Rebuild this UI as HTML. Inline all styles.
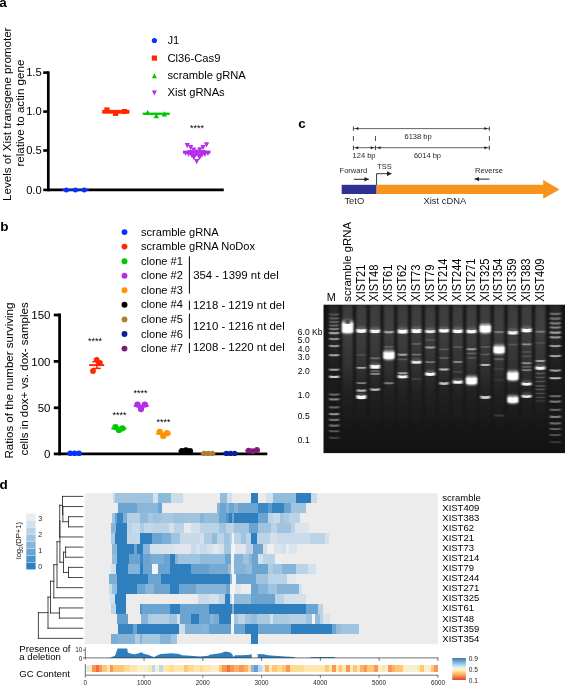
<!DOCTYPE html>
<html lang="en">
<head>
<meta charset="utf-8">
<title>Figure</title>
<style>
html,body{margin:0;padding:0;background:#fff;}
body{width:565px;height:685px;overflow:hidden;}
svg{display:block;font-family:"Liberation Sans", sans-serif;}
</style>
</head>
<body>
<svg width="565" height="685" viewBox="0 0 565 685">
<g id="panel-a">
<text x="-0.70" y="7.00" font-size="13.5" font-weight="bold">a</text>
<text x="10.80" y="114.20" font-size="11.6" text-anchor="middle" transform="rotate(-90 10.80 114.20)">Levels of Xist transgene promoter</text>
<text x="24.50" y="113.10" font-size="11.6" text-anchor="middle" transform="rotate(-90 24.50 113.10)">relative to actin gene</text>
<line x1="48.30" y1="71.30" x2="48.30" y2="191.30" stroke="#000" stroke-width="2.7"/>
<line x1="48.30" y1="189.95" x2="223.80" y2="189.95" stroke="#000" stroke-width="2.7"/>
<line x1="43.20" y1="72.60" x2="48.30" y2="72.60" stroke="#000" stroke-width="2.6"/>
<text x="41.70" y="76.20" font-size="11.2" text-anchor="end">1.5</text>
<line x1="43.20" y1="111.60" x2="48.30" y2="111.60" stroke="#000" stroke-width="2.6"/>
<text x="41.70" y="115.20" font-size="11.2" text-anchor="end">1.0</text>
<line x1="43.20" y1="150.50" x2="48.30" y2="150.50" stroke="#000" stroke-width="2.6"/>
<text x="41.70" y="154.10" font-size="11.2" text-anchor="end">0.5</text>
<line x1="43.20" y1="189.90" x2="48.30" y2="189.90" stroke="#000" stroke-width="2.6"/>
<text x="41.70" y="193.50" font-size="11.2" text-anchor="end">0.0</text>
<text x="167.50" y="44.20" font-size="11.2">J1</text>
<text x="167.50" y="61.60" font-size="11.2">Cl36-Cas9</text>
<text x="167.50" y="78.90" font-size="11.2">scramble gRNA</text>
<text x="167.50" y="96.40" font-size="11.2">Xist gRNAs</text>
<circle cx="154.40" cy="40.50" r="2.60" fill="#0433ff"/>
<rect x="151.80" y="55.50" width="5.20" height="5.20" fill="#ff2600"/>
<polygon points="151.90,78.30 156.90,78.30 154.40,73.30" fill="#00c800"/>
<polygon points="151.90,90.60 156.90,90.60 154.40,95.60" fill="#b52de8"/>
<line x1="61.80" y1="189.95" x2="88.80" y2="189.95" stroke="#0433ff" stroke-width="1.6"/>
<circle cx="66.40" cy="189.95" r="2.50" fill="#0433ff"/>
<circle cx="75.50" cy="189.95" r="2.50" fill="#0433ff"/>
<circle cx="84.30" cy="189.95" r="2.50" fill="#0433ff"/>
<rect x="102.20" y="109.90" width="27.20" height="3.80" fill="#ff2600"/>
<rect x="104.30" y="107.40" width="5.20" height="5.00" fill="#ff2600"/>
<rect x="113.00" y="111.00" width="5.20" height="5.00" fill="#ff2600"/>
<rect x="121.90" y="109.00" width="5.20" height="5.00" fill="#ff2600"/>
<rect x="142.70" y="112.60" width="27.10" height="2.30" fill="#00c800"/>
<polygon points="145.10,115.00 150.30,115.00 147.70,109.80" fill="#00c800"/>
<polygon points="153.70,118.20 158.90,118.20 156.30,113.00" fill="#00c800"/>
<polygon points="161.80,116.50 167.00,116.50 164.40,111.30" fill="#00c800"/>
<rect x="183.00" y="150.80" width="27.40" height="2.80" fill="#b52de8"/>
<polygon points="184.70,143.10 189.90,143.10 187.30,148.30" fill="#b52de8"/>
<polygon points="188.10,145.10 193.30,145.10 190.70,150.30" fill="#b52de8"/>
<polygon points="191.00,147.60 196.20,147.60 193.60,152.80" fill="#b52de8"/>
<polygon points="203.90,142.30 209.10,142.30 206.50,147.50" fill="#b52de8"/>
<polygon points="200.50,145.00 205.70,145.00 203.10,150.20" fill="#b52de8"/>
<polygon points="197.30,147.20 202.50,147.20 199.90,152.40" fill="#b52de8"/>
<polygon points="194.10,149.40 199.30,149.40 196.70,154.60" fill="#b52de8"/>
<polygon points="183.00,150.80 188.20,150.80 185.60,156.00" fill="#b52de8"/>
<polygon points="186.00,151.80 191.20,151.80 188.60,157.00" fill="#b52de8"/>
<polygon points="189.00,152.60 194.20,152.60 191.60,157.80" fill="#b52de8"/>
<polygon points="191.90,153.60 197.10,153.60 194.50,158.80" fill="#b52de8"/>
<polygon points="196.40,153.60 201.60,153.60 199.00,158.80" fill="#b52de8"/>
<polygon points="199.30,152.60 204.50,152.60 201.90,157.80" fill="#b52de8"/>
<polygon points="202.30,151.80 207.50,151.80 204.90,157.00" fill="#b52de8"/>
<polygon points="205.30,150.80 210.50,150.80 207.90,156.00" fill="#b52de8"/>
<polygon points="191.20,155.00 196.40,155.00 193.80,160.20" fill="#b52de8"/>
<polygon points="197.00,155.00 202.20,155.00 199.60,160.20" fill="#b52de8"/>
<polygon points="194.10,159.00 199.30,159.00 196.70,164.20" fill="#b52de8"/>
<polygon points="187.70,150.00 192.90,150.00 190.30,155.20" fill="#b52de8"/>
<polygon points="200.70,150.00 205.90,150.00 203.30,155.20" fill="#b52de8"/>
<polygon points="194.10,151.00 199.30,151.00 196.70,156.20" fill="#b52de8"/>
<text x="196.90" y="130.60" font-size="9" text-anchor="middle">****</text>
</g>
<g id="panel-b">
<text x="0.30" y="230.70" font-size="13.5" font-weight="bold">b</text>
<text x="13.10" y="380.60" font-size="11.55" text-anchor="middle" transform="rotate(-90 13.10 380.60)">Ratios of the number surviving</text>
<text x="28.00" y="378.90" font-size="11.52" text-anchor="middle" transform="rotate(-90 28.00 378.90)">cells in dox+ vs. dox- samples</text>
<line x1="59.60" y1="313.50" x2="59.60" y2="455.30" stroke="#000" stroke-width="2.8"/>
<line x1="59.60" y1="453.90" x2="267.30" y2="453.90" stroke="#000" stroke-width="2.8"/>
<line x1="53.80" y1="315.00" x2="59.60" y2="315.00" stroke="#000" stroke-width="2.8"/>
<text x="50.50" y="319.10" font-size="11.5" text-anchor="end">150</text>
<line x1="53.80" y1="361.40" x2="59.60" y2="361.40" stroke="#000" stroke-width="2.8"/>
<text x="50.50" y="365.50" font-size="11.5" text-anchor="end">100</text>
<line x1="53.80" y1="407.80" x2="59.60" y2="407.80" stroke="#000" stroke-width="2.8"/>
<text x="50.50" y="411.90" font-size="11.5" text-anchor="end">50</text>
<line x1="53.80" y1="453.90" x2="59.60" y2="453.90" stroke="#000" stroke-width="2.8"/>
<text x="50.50" y="458.00" font-size="11.5" text-anchor="end">0</text>
<circle cx="124.50" cy="232.10" r="2.95" fill="#0433ff"/>
<text x="141.00" y="235.65" font-size="11.1">scramble gRNA</text>
<circle cx="124.50" cy="246.60" r="2.95" fill="#ff2600"/>
<text x="141.00" y="250.15" font-size="11.1">scramble gRNA NoDox</text>
<circle cx="124.50" cy="261.20" r="2.95" fill="#00c800"/>
<text x="141.00" y="264.75" font-size="11.1">clone #1</text>
<circle cx="124.50" cy="275.70" r="2.95" fill="#b52de8"/>
<text x="141.00" y="279.25" font-size="11.1">clone #2</text>
<circle cx="124.50" cy="290.20" r="2.95" fill="#ff9300"/>
<text x="141.00" y="293.75" font-size="11.1">clone #3</text>
<circle cx="124.50" cy="304.80" r="2.95" fill="#000"/>
<text x="141.00" y="308.35" font-size="11.1">clone #4</text>
<circle cx="124.50" cy="319.40" r="2.95" fill="#b07e32"/>
<text x="141.00" y="322.95" font-size="11.1">clone #5</text>
<circle cx="124.50" cy="334.00" r="2.95" fill="#0a1e9e"/>
<text x="141.00" y="337.55" font-size="11.1">clone #6</text>
<circle cx="124.50" cy="348.60" r="2.95" fill="#7f1a78"/>
<text x="141.00" y="352.15" font-size="11.1">clone #7</text>
<line x1="189.40" y1="256.40" x2="189.40" y2="293.60" stroke="#000" stroke-width="1"/>
<line x1="189.40" y1="300.60" x2="189.40" y2="310.00" stroke="#000" stroke-width="1"/>
<line x1="189.40" y1="313.70" x2="189.40" y2="338.80" stroke="#000" stroke-width="1"/>
<line x1="189.40" y1="342.80" x2="189.40" y2="353.00" stroke="#000" stroke-width="1"/>
<text x="193.20" y="279.20" font-size="11.4">354 - 1399 nt del</text>
<text x="192.90" y="308.60" font-size="11.4">1218 - 1219 nt del</text>
<text x="192.90" y="330.30" font-size="11.4">1210 - 1216 nt del</text>
<text x="192.90" y="350.80" font-size="11.4">1208 - 1220 nt del</text>
<circle cx="70.20" cy="453.20" r="2.80" fill="#0433ff"/>
<circle cx="74.60" cy="453.20" r="2.80" fill="#0433ff"/>
<circle cx="79.00" cy="453.20" r="2.80" fill="#0433ff"/>
<line x1="67.40" y1="453.20" x2="81.80" y2="453.20" stroke="#0433ff" stroke-width="1.6"/>
<circle cx="96.70" cy="359.80" r="2.90" fill="#ff2600"/>
<circle cx="99.90" cy="362.80" r="2.90" fill="#ff2600"/>
<circle cx="93.00" cy="371.00" r="2.90" fill="#ff2600"/>
<line x1="89.20" y1="365.10" x2="104.20" y2="365.10" stroke="#ff2600" stroke-width="1.9"/>
<line x1="92.40" y1="361.70" x2="101.40" y2="361.70" stroke="#ff2600" stroke-width="1.5"/>
<line x1="93.00" y1="368.40" x2="100.80" y2="368.40" stroke="#ff2600" stroke-width="1.5"/>
<line x1="96.90" y1="361.70" x2="96.90" y2="368.40" stroke="#ff2600" stroke-width="1.5"/>
<circle cx="115.50" cy="427.10" r="3.15" fill="#00c800"/>
<circle cx="118.90" cy="429.90" r="3.15" fill="#00c800"/>
<circle cx="122.40" cy="428.30" r="3.15" fill="#00c800"/>
<line x1="111.40" y1="428.50" x2="126.40" y2="428.50" stroke="#00c800" stroke-width="2.0"/>
<circle cx="137.50" cy="404.60" r="3.15" fill="#b52de8"/>
<circle cx="141.00" cy="409.00" r="3.15" fill="#b52de8"/>
<circle cx="144.80" cy="404.60" r="3.15" fill="#b52de8"/>
<line x1="133.80" y1="405.90" x2="148.70" y2="405.90" stroke="#b52de8" stroke-width="2.0"/>
<circle cx="159.80" cy="431.80" r="3.15" fill="#ff9300"/>
<circle cx="163.30" cy="435.90" r="3.15" fill="#ff9300"/>
<circle cx="167.00" cy="433.20" r="3.15" fill="#ff9300"/>
<line x1="156.10" y1="433.70" x2="170.90" y2="433.70" stroke="#ff9300" stroke-width="2.0"/>
<circle cx="181.85" cy="451.10" r="3.00" fill="#000"/>
<circle cx="185.95" cy="450.30" r="3.00" fill="#000"/>
<circle cx="190.05" cy="451.10" r="3.00" fill="#000"/>
<line x1="178.50" y1="451.20" x2="193.10" y2="451.20" stroke="#000" stroke-width="1.6"/>
<circle cx="204.12" cy="453.40" r="2.70" fill="#b07e32"/>
<circle cx="208.22" cy="453.40" r="2.70" fill="#b07e32"/>
<circle cx="212.32" cy="453.40" r="2.70" fill="#b07e32"/>
<line x1="200.70" y1="453.40" x2="215.40" y2="453.40" stroke="#b07e32" stroke-width="1.8"/>
<circle cx="226.39" cy="453.40" r="2.70" fill="#0a1e9e"/>
<circle cx="230.49" cy="453.40" r="2.70" fill="#0a1e9e"/>
<circle cx="234.59" cy="453.40" r="2.70" fill="#0a1e9e"/>
<line x1="223.00" y1="453.40" x2="237.80" y2="453.40" stroke="#0a1e9e" stroke-width="1.8"/>
<circle cx="248.66" cy="450.70" r="3.00" fill="#7f1a78"/>
<circle cx="252.76" cy="451.30" r="3.00" fill="#7f1a78"/>
<circle cx="256.86" cy="450.10" r="3.00" fill="#7f1a78"/>
<line x1="245.50" y1="450.60" x2="259.90" y2="450.60" stroke="#7f1a78" stroke-width="1.8"/>
<text x="95.00" y="344.40" font-size="9" text-anchor="middle">****</text>
<text x="119.50" y="417.70" font-size="9" text-anchor="middle">****</text>
<text x="140.60" y="396.00" font-size="9" text-anchor="middle">****</text>
<text x="163.60" y="424.90" font-size="9" text-anchor="middle">****</text>
</g>
<g id="panel-c">
<text x="298.20" y="128.10" font-size="13.5" font-weight="bold">c</text>
<line x1="353.40" y1="128.60" x2="489.40" y2="128.60" stroke="#231f20" stroke-width="0.7"/>
<polygon points="355.20,128.60 358.40,127.10 358.40,130.10" fill="#231f20"/>
<polygon points="487.60,128.60 484.40,127.10 484.40,130.10" fill="#231f20"/>
<line x1="353.40" y1="147.70" x2="375.50" y2="147.70" stroke="#231f20" stroke-width="0.7"/>
<polygon points="355.00,147.70 358.20,146.20 358.20,149.20" fill="#231f20"/>
<polygon points="373.90,147.70 370.70,146.20 370.70,149.20" fill="#231f20"/>
<line x1="375.50" y1="147.70" x2="489.40" y2="147.70" stroke="#231f20" stroke-width="0.7"/>
<polygon points="377.30,147.70 380.50,146.20 380.50,149.20" fill="#231f20"/>
<polygon points="487.60,147.70 484.40,146.20 484.40,149.20" fill="#231f20"/>
<line x1="353.40" y1="126.50" x2="353.40" y2="130.90" stroke="#231f20" stroke-width="0.8"/>
<line x1="353.40" y1="136.00" x2="353.40" y2="141.00" stroke="#231f20" stroke-width="0.8"/>
<line x1="353.40" y1="145.50" x2="353.40" y2="150.10" stroke="#231f20" stroke-width="0.8"/>
<line x1="489.40" y1="126.50" x2="489.40" y2="130.90" stroke="#231f20" stroke-width="0.8"/>
<line x1="489.40" y1="136.00" x2="489.40" y2="141.00" stroke="#231f20" stroke-width="0.8"/>
<line x1="489.40" y1="145.50" x2="489.40" y2="150.10" stroke="#231f20" stroke-width="0.8"/>
<line x1="375.50" y1="136.00" x2="375.50" y2="141.00" stroke="#231f20" stroke-width="0.8"/>
<line x1="375.50" y1="145.50" x2="375.50" y2="150.10" stroke="#231f20" stroke-width="0.8"/>
<text x="404.50" y="138.50" font-size="7.5" fill="#231f20">6138 bp</text>
<text x="352.60" y="158.30" font-size="7.5" fill="#231f20">124 bp</text>
<text x="413.90" y="158.30" font-size="7.5" fill="#231f20">6014 bp</text>
<text x="339.60" y="173.20" font-size="7.5" fill="#231f20">Forward</text>
<text x="377.20" y="169.20" font-size="7.5" fill="#231f20">TSS</text>
<text x="475.00" y="173.20" font-size="7.5" fill="#231f20">Reverse</text>
<line x1="353.90" y1="179.30" x2="368.90" y2="179.30" stroke="#231f20" stroke-width="1.0"/>
<polygon points="368.90,179.30 364.50,177.10 364.50,181.50" fill="#231f20"/>
<line x1="474.60" y1="179.10" x2="489.40" y2="179.10" stroke="#231f20" stroke-width="1.0"/>
<polygon points="474.60,179.10 479.00,176.90 479.00,181.30" fill="#231f20"/>
<polyline points="376.6,185 376.6,173.7 388,173.7" fill="none" stroke="#231f20" stroke-width="0.9"/>
<polygon points="392.0,173.7 387.0,171.3 387.0,176.1" fill="#231f20"/>
<rect x="341.70" y="184.80" width="34.90" height="9.20" fill="#2e3192"/>
<polygon points="376.6,184.8 543.2,184.8 543.2,180.1 559.6,189.4 543.2,198.7 543.2,194.0 376.6,194.0" fill="#f7941d"/>
<text x="344.40" y="203.50" font-size="9.4" fill="#231f20">TetO</text>
<text x="423.50" y="203.50" font-size="9.4" fill="#231f20">Xist cDNA</text>
<text x="326.80" y="301.20" font-size="10.8">M</text>
<text font-size="11.7" transform="translate(351.30 301.7) rotate(-90) scale(0.975 1)">scramble gRNA</text>
<text font-size="11.9" transform="translate(364.68 301.7) rotate(-90) scale(0.935 1)">XIST21</text>
<text font-size="11.9" transform="translate(378.46 301.7) rotate(-90) scale(0.935 1)">XIST48</text>
<text font-size="11.9" transform="translate(392.24 301.7) rotate(-90) scale(0.935 1)">XIST61</text>
<text font-size="11.9" transform="translate(406.02 301.7) rotate(-90) scale(0.935 1)">XIST62</text>
<text font-size="11.9" transform="translate(419.80 301.7) rotate(-90) scale(0.935 1)">XIST73</text>
<text font-size="11.9" transform="translate(433.58 301.7) rotate(-90) scale(0.935 1)">XIST79</text>
<text font-size="11.9" transform="translate(447.36 301.7) rotate(-90) scale(0.935 1)">XIST214</text>
<text font-size="11.9" transform="translate(461.14 301.7) rotate(-90) scale(0.935 1)">XIST244</text>
<text font-size="11.9" transform="translate(474.92 301.7) rotate(-90) scale(0.935 1)">XIST271</text>
<text font-size="11.9" transform="translate(488.70 301.7) rotate(-90) scale(0.935 1)">XIST325</text>
<text font-size="11.9" transform="translate(502.48 301.7) rotate(-90) scale(0.935 1)">XIST354</text>
<text font-size="11.9" transform="translate(516.26 301.7) rotate(-90) scale(0.935 1)">XIST359</text>
<text font-size="11.9" transform="translate(530.04 301.7) rotate(-90) scale(0.935 1)">XIST383</text>
<text font-size="11.9" transform="translate(543.82 301.7) rotate(-90) scale(0.935 1)">XIST409</text>
<text x="297.80" y="334.80" font-size="8.5">6.0 Kb</text>
<text x="297.80" y="343.30" font-size="8.5">5.0</text>
<text x="297.80" y="351.60" font-size="8.5">4.0</text>
<text x="297.80" y="359.90" font-size="8.5">3.0</text>
<text x="297.80" y="373.60" font-size="8.5">2.0</text>
<text x="297.80" y="398.40" font-size="8.5">1.0</text>
<text x="297.80" y="418.90" font-size="8.5">0.5</text>
<text x="297.80" y="443.00" font-size="8.5">0.1</text>
<defs>
<filter id="bl" x="-20%" y="-100%" width="140%" height="300%"><feGaussianBlur stdDeviation="0.9 0.75"/></filter>
<filter id="bl2" x="-20%" y="-100%" width="140%" height="300%"><feGaussianBlur stdDeviation="1.3 1.2"/></filter>
<filter id="bl3" x="-30%" y="-10%" width="160%" height="120%"><feGaussianBlur stdDeviation="0.8 3"/></filter>
<linearGradient id="gelbg" x1="0" y1="0" x2="0" y2="1">
<stop offset="0" stop-color="#131313"/><stop offset="0.5" stop-color="#181818"/><stop offset="0.75" stop-color="#181818"/><stop offset="1" stop-color="#121212"/>
</linearGradient>
<linearGradient id="smear" x1="0" y1="0" x2="0" y2="1">
<stop offset="0" stop-color="#fff" stop-opacity="0.17"/><stop offset="0.2" stop-color="#fff" stop-opacity="0.19"/>
<stop offset="0.5" stop-color="#fff" stop-opacity="0.12"/><stop offset="0.68" stop-color="#fff" stop-opacity="0.05"/><stop offset="0.85" stop-color="#fff" stop-opacity="0.02"/><stop offset="1" stop-color="#fff" stop-opacity="0"/>
</linearGradient>
<clipPath id="gelclip"><rect x="323.5" y="304.7" width="241.5" height="148.4"/></clipPath>
</defs>
<rect x="323.50" y="304.70" width="241.50" height="148.40" fill="url(#gelbg)"/>
<g clip-path="url(#gelclip)">
<g filter="url(#bl3)">
<rect x="342.30" y="303.00" width="10.60" height="125.00" fill="url(#smear)"/>
<rect x="356.07" y="303.00" width="10.60" height="125.00" fill="url(#smear)"/>
<rect x="369.84" y="303.00" width="10.60" height="125.00" fill="url(#smear)"/>
<rect x="383.61" y="303.00" width="10.60" height="125.00" fill="url(#smear)"/>
<rect x="397.38" y="303.00" width="10.60" height="125.00" fill="url(#smear)"/>
<rect x="411.15" y="303.00" width="10.60" height="125.00" fill="url(#smear)"/>
<rect x="424.92" y="303.00" width="10.60" height="125.00" fill="url(#smear)"/>
<rect x="438.69" y="303.00" width="10.60" height="125.00" fill="url(#smear)"/>
<rect x="452.46" y="303.00" width="10.60" height="125.00" fill="url(#smear)"/>
<rect x="466.23" y="303.00" width="10.60" height="125.00" fill="url(#smear)"/>
<rect x="480.00" y="303.00" width="10.60" height="125.00" fill="url(#smear)"/>
<rect x="493.77" y="303.00" width="10.60" height="125.00" fill="url(#smear)"/>
<rect x="507.54" y="303.00" width="10.60" height="125.00" fill="url(#smear)"/>
<rect x="521.31" y="303.00" width="10.60" height="125.00" fill="url(#smear)"/>
<rect x="535.08" y="303.00" width="10.60" height="125.00" fill="url(#smear)"/>
<rect x="329.30" y="303.00" width="9.60" height="100.00" fill="url(#smear)" opacity="0.5"/>
<rect x="550.30" y="303.00" width="10.40" height="100.00" fill="url(#smear)" opacity="0.5"/>
</g>
<path d="M329.20,313.20 Q334.20,314.10 339.20,313.20 L339.20,315.37 Q334.20,315.91 329.20,315.37 Z" fill="#fff" fill-opacity="0.20" filter="url(#bl)"/>
<path d="M329.20,317.10 Q334.20,318.00 339.20,317.10 L339.20,319.27 Q334.20,319.81 329.20,319.27 Z" fill="#fff" fill-opacity="0.22" filter="url(#bl)"/>
<path d="M329.20,320.70 Q334.20,321.60 339.20,320.70 L339.20,322.87 Q334.20,323.41 329.20,322.87 Z" fill="#fff" fill-opacity="0.25" filter="url(#bl)"/>
<path d="M329.20,324.20 Q334.20,325.10 339.20,324.20 L339.20,326.37 Q334.20,326.91 329.20,326.37 Z" fill="#fff" fill-opacity="0.28" filter="url(#bl)"/>
<path d="M329.20,327.70 Q334.20,328.60 339.20,327.70 L339.20,329.87 Q334.20,330.41 329.20,329.87 Z" fill="#fff" fill-opacity="0.40" filter="url(#bl)"/>
<path d="M329.20,331.80 Q334.20,332.70 339.20,331.80 L339.20,333.97 Q334.20,334.51 329.20,333.97 Z" fill="#fff" fill-opacity="0.58" filter="url(#bl)"/>
<path d="M329.20,337.70 Q334.20,338.60 339.20,337.70 L339.20,339.87 Q334.20,340.41 329.20,339.87 Z" fill="#fff" fill-opacity="0.50" filter="url(#bl)"/>
<path d="M329.20,344.70 Q334.20,345.60 339.20,344.70 L339.20,346.87 Q334.20,347.41 329.20,346.87 Z" fill="#fff" fill-opacity="0.55" filter="url(#bl)"/>
<path d="M329.20,353.90 Q334.20,354.80 339.20,353.90 L339.20,356.07 Q334.20,356.61 329.20,356.07 Z" fill="#fff" fill-opacity="0.60" filter="url(#bl)"/>
<path d="M329.20,368.40 Q334.20,369.30 339.20,368.40 L339.20,370.57 Q334.20,371.11 329.20,370.57 Z" fill="#fff" fill-opacity="0.58" filter="url(#bl)"/>
<path d="M329.20,375.50 Q334.20,376.40 339.20,375.50 L339.20,377.67 Q334.20,378.21 329.20,377.67 Z" fill="#fff" fill-opacity="0.78" filter="url(#bl)"/>
<path d="M329.20,393.20 Q334.20,394.10 339.20,393.20 L339.20,395.37 Q334.20,395.91 329.20,395.37 Z" fill="#fff" fill-opacity="0.36" filter="url(#bl)"/>
<path d="M329.20,398.00 Q334.20,398.90 339.20,398.00 L339.20,400.17 Q334.20,400.71 329.20,400.17 Z" fill="#fff" fill-opacity="0.46" filter="url(#bl)"/>
<path d="M329.20,406.00 Q334.20,406.90 339.20,406.00 L339.20,408.17 Q334.20,408.71 329.20,408.17 Z" fill="#fff" fill-opacity="0.34" filter="url(#bl)"/>
<path d="M329.20,412.80 Q334.20,413.70 339.20,412.80 L339.20,414.97 Q334.20,415.51 329.20,414.97 Z" fill="#fff" fill-opacity="0.52" filter="url(#bl)"/>
<path d="M329.20,418.60 Q334.20,419.50 339.20,418.60 L339.20,420.77 Q334.20,421.31 329.20,420.77 Z" fill="#fff" fill-opacity="0.40" filter="url(#bl)"/>
<path d="M329.20,424.30 Q334.20,425.20 339.20,424.30 L339.20,426.47 Q334.20,427.01 329.20,426.47 Z" fill="#fff" fill-opacity="0.38" filter="url(#bl)"/>
<path d="M329.20,429.90 Q334.20,430.80 339.20,429.90 L339.20,432.07 Q334.20,432.61 329.20,432.07 Z" fill="#fff" fill-opacity="0.28" filter="url(#bl)"/>
<path d="M329.20,436.60 Q334.20,437.50 339.20,436.60 L339.20,438.77 Q334.20,439.31 329.20,438.77 Z" fill="#fff" fill-opacity="0.18" filter="url(#bl)"/>
<path d="M549.80,312.60 Q555.30,313.50 560.80,312.60 L560.80,314.77 Q555.30,315.31 549.80,314.77 Z" fill="#fff" fill-opacity="0.30" filter="url(#bl)"/>
<path d="M549.80,317.30 Q555.30,318.20 560.80,317.30 L560.80,319.47 Q555.30,320.01 549.80,319.47 Z" fill="#fff" fill-opacity="0.34" filter="url(#bl)"/>
<path d="M549.80,322.00 Q555.30,322.90 560.80,322.00 L560.80,324.17 Q555.30,324.71 549.80,324.17 Z" fill="#fff" fill-opacity="0.38" filter="url(#bl)"/>
<path d="M549.80,326.20 Q555.30,327.10 560.80,326.20 L560.80,328.37 Q555.30,328.91 549.80,328.37 Z" fill="#fff" fill-opacity="0.42" filter="url(#bl)"/>
<path d="M549.80,331.30 Q555.30,332.20 560.80,331.30 L560.80,333.47 Q555.30,334.01 549.80,333.47 Z" fill="#fff" fill-opacity="0.55" filter="url(#bl)"/>
<path d="M549.80,336.00 Q555.30,336.90 560.80,336.00 L560.80,338.17 Q555.30,338.71 549.80,338.17 Z" fill="#fff" fill-opacity="0.50" filter="url(#bl)"/>
<path d="M549.80,344.70 Q555.30,345.60 560.80,344.70 L560.80,346.87 Q555.30,347.41 549.80,346.87 Z" fill="#fff" fill-opacity="0.55" filter="url(#bl)"/>
<path d="M549.80,354.70 Q555.30,355.60 560.80,354.70 L560.80,356.87 Q555.30,357.41 549.80,356.87 Z" fill="#fff" fill-opacity="0.60" filter="url(#bl)"/>
<path d="M549.80,369.20 Q555.30,370.10 560.80,369.20 L560.80,371.37 Q555.30,371.91 549.80,371.37 Z" fill="#fff" fill-opacity="0.58" filter="url(#bl)"/>
<path d="M549.80,376.90 Q555.30,377.80 560.80,376.90 L560.80,379.07 Q555.30,379.61 549.80,379.07 Z" fill="#fff" fill-opacity="0.70" filter="url(#bl)"/>
<path d="M549.80,394.90 Q555.30,395.80 560.80,394.90 L560.80,397.07 Q555.30,397.61 549.80,397.07 Z" fill="#fff" fill-opacity="0.36" filter="url(#bl)"/>
<path d="M549.80,400.30 Q555.30,401.20 560.80,400.30 L560.80,402.47 Q555.30,403.01 549.80,402.47 Z" fill="#fff" fill-opacity="0.42" filter="url(#bl)"/>
<path d="M549.80,408.50 Q555.30,409.40 560.80,408.50 L560.80,410.67 Q555.30,411.21 549.80,410.67 Z" fill="#fff" fill-opacity="0.32" filter="url(#bl)"/>
<path d="M549.80,415.50 Q555.30,416.40 560.80,415.50 L560.80,417.67 Q555.30,418.21 549.80,417.67 Z" fill="#fff" fill-opacity="0.45" filter="url(#bl)"/>
<path d="M549.80,422.10 Q555.30,423.00 560.80,422.10 L560.80,424.27 Q555.30,424.81 549.80,424.27 Z" fill="#fff" fill-opacity="0.36" filter="url(#bl)"/>
<path d="M549.80,427.70 Q555.30,428.60 560.80,427.70 L560.80,429.87 Q555.30,430.41 549.80,429.87 Z" fill="#fff" fill-opacity="0.32" filter="url(#bl)"/>
<path d="M549.80,433.70 Q555.30,434.60 560.80,433.70 L560.80,435.87 Q555.30,436.41 549.80,435.87 Z" fill="#fff" fill-opacity="0.25" filter="url(#bl)"/>
<path d="M549.80,440.80 Q555.30,441.70 560.80,440.80 L560.80,442.97 Q555.30,443.51 549.80,442.97 Z" fill="#fff" fill-opacity="0.15" filter="url(#bl)"/>
<path d="M342.50,321.15 Q347.60,322.65 352.70,321.15 L352.70,333.00 Q347.60,333.90 342.50,333.00 Z" fill="#fff" fill-opacity="1.00" filter="url(#bl2)"/>
<rect x="342.80" y="319.30" width="9.60" height="3.0" fill="#fff" fill-opacity="0.22" filter="url(#bl2)"/>
<path d="M342.50,323.05 Q347.60,324.55 352.70,323.05 L352.70,332.30 Q347.60,333.20 342.50,332.30 Z" fill="#fff" fill-opacity="1.00" filter="url(#bl)"/>
<rect x="342.80" y="321.20" width="9.60" height="3.0" fill="#fff" fill-opacity="0.22" filter="url(#bl2)"/>
<path d="M356.57,328.75 Q361.37,330.25 366.17,328.75 L366.17,332.60 Q361.37,333.50 356.57,332.60 Z" fill="#fff" fill-opacity="1.00" filter="url(#bl)"/>
<rect x="356.87" y="326.90" width="9.00" height="3.0" fill="#fff" fill-opacity="0.22" filter="url(#bl2)"/>
<path d="M356.77,366.65 Q361.37,367.35 365.97,366.65 L365.97,368.46 Q361.37,368.88 356.77,368.46 Z" fill="#fff" fill-opacity="0.60" filter="url(#bl)"/>
<path d="M356.77,382.05 Q361.37,382.75 365.97,382.05 L365.97,383.86 Q361.37,384.28 356.77,383.86 Z" fill="#fff" fill-opacity="0.45" filter="url(#bl)"/>
<path d="M356.77,389.35 Q361.37,390.05 365.97,389.35 L365.97,391.56 Q361.37,391.98 356.77,391.56 Z" fill="#fff" fill-opacity="0.70" filter="url(#bl)"/>
<path d="M356.57,395.05 Q361.37,396.55 366.17,395.05 L366.17,398.70 Q361.37,399.60 356.57,398.70 Z" fill="#fff" fill-opacity="1.00" filter="url(#bl)"/>
<rect x="356.87" y="393.20" width="9.00" height="3.0" fill="#fff" fill-opacity="0.22" filter="url(#bl2)"/>
<path d="M356.77,353.90 Q361.37,354.60 365.97,353.90 L365.97,355.61 Q361.37,356.03 356.77,355.61 Z" fill="#fff" fill-opacity="0.15" filter="url(#bl)"/>
<path d="M370.34,329.35 Q375.14,330.85 379.94,329.35 L379.94,332.80 Q375.14,333.70 370.34,332.80 Z" fill="#fff" fill-opacity="0.95" filter="url(#bl)"/>
<rect x="370.64" y="327.50" width="9.00" height="3.0" fill="#fff" fill-opacity="0.22" filter="url(#bl2)"/>
<path d="M370.54,357.15 Q375.14,357.85 379.74,357.15 L379.74,358.96 Q375.14,359.38 370.54,358.96 Z" fill="#fff" fill-opacity="0.30" filter="url(#bl)"/>
<path d="M370.34,364.55 Q375.14,366.05 379.94,364.55 L379.94,368.40 Q375.14,369.30 370.34,368.40 Z" fill="#fff" fill-opacity="1.00" filter="url(#bl)"/>
<rect x="370.64" y="362.70" width="9.00" height="3.0" fill="#fff" fill-opacity="0.22" filter="url(#bl2)"/>
<path d="M370.54,370.15 Q375.14,370.85 379.74,370.15 L379.74,371.76 Q375.14,372.18 370.54,371.76 Z" fill="#fff" fill-opacity="0.30" filter="url(#bl)"/>
<path d="M370.54,372.85 Q375.14,373.55 379.74,372.85 L379.74,374.66 Q375.14,375.08 370.54,374.66 Z" fill="#fff" fill-opacity="0.50" filter="url(#bl)"/>
<path d="M370.54,387.95 Q375.14,389.45 379.74,387.95 L379.74,390.60 Q375.14,391.50 370.54,390.60 Z" fill="#fff" fill-opacity="0.70" filter="url(#bl)"/>
<path d="M384.31,330.45 Q388.91,331.95 393.51,330.45 L393.51,333.10 Q388.91,334.00 384.31,333.10 Z" fill="#fff" fill-opacity="0.55" filter="url(#bl)"/>
<path d="M383.81,351.35 Q388.91,352.85 394.01,351.35 L394.01,359.20 Q388.91,360.10 383.81,359.20 Z" fill="#fff" fill-opacity="1.00" filter="url(#bl2)"/>
<rect x="384.11" y="349.50" width="9.60" height="3.0" fill="#fff" fill-opacity="0.22" filter="url(#bl2)"/>
<path d="M383.81,352.35 Q388.91,353.85 394.01,352.35 L394.01,358.20 Q388.91,359.10 383.81,358.20 Z" fill="#fff" fill-opacity="1.00" filter="url(#bl)"/>
<rect x="384.11" y="350.50" width="9.60" height="3.0" fill="#fff" fill-opacity="0.22" filter="url(#bl2)"/>
<path d="M384.31,381.95 Q388.91,382.65 393.51,381.95 L393.51,383.96 Q388.91,384.38 384.31,383.96 Z" fill="#fff" fill-opacity="0.40" filter="url(#bl)"/>
<path d="M384.31,345.85 Q388.91,346.55 393.51,345.85 L393.51,347.66 Q388.91,348.08 384.31,347.66 Z" fill="#fff" fill-opacity="0.20" filter="url(#bl)"/>
<path d="M397.88,329.35 Q402.68,330.85 407.48,329.35 L407.48,333.20 Q402.68,334.10 397.88,333.20 Z" fill="#fff" fill-opacity="1.00" filter="url(#bl)"/>
<rect x="398.18" y="327.50" width="9.00" height="3.0" fill="#fff" fill-opacity="0.22" filter="url(#bl2)"/>
<path d="M398.08,353.45 Q402.68,354.15 407.28,353.45 L407.28,355.46 Q402.68,355.88 398.08,355.46 Z" fill="#fff" fill-opacity="0.55" filter="url(#bl)"/>
<path d="M398.08,358.45 Q402.68,359.15 407.28,358.45 L407.28,360.06 Q402.68,360.48 398.08,360.06 Z" fill="#fff" fill-opacity="0.20" filter="url(#bl)"/>
<path d="M398.08,372.05 Q402.68,372.75 407.28,372.05 L407.28,373.86 Q402.68,374.28 398.08,373.86 Z" fill="#fff" fill-opacity="0.55" filter="url(#bl)"/>
<path d="M397.88,374.95 Q402.68,376.45 407.48,374.95 L407.48,378.00 Q402.68,378.90 397.88,378.00 Z" fill="#fff" fill-opacity="0.95" filter="url(#bl)"/>
<rect x="398.18" y="373.10" width="9.00" height="3.0" fill="#fff" fill-opacity="0.22" filter="url(#bl2)"/>
<path d="M411.65,328.65 Q416.45,330.15 421.25,328.65 L421.25,332.70 Q416.45,333.60 411.65,332.70 Z" fill="#fff" fill-opacity="1.00" filter="url(#bl)"/>
<rect x="411.95" y="326.80" width="9.00" height="3.0" fill="#fff" fill-opacity="0.22" filter="url(#bl2)"/>
<path d="M411.85,342.85 Q416.45,343.55 421.05,342.85 L421.05,344.66 Q416.45,345.08 411.85,344.66 Z" fill="#fff" fill-opacity="0.20" filter="url(#bl)"/>
<path d="M411.85,353.55 Q416.45,354.25 421.05,353.55 L421.05,355.36 Q416.45,355.78 411.85,355.36 Z" fill="#fff" fill-opacity="0.30" filter="url(#bl)"/>
<path d="M411.65,360.55 Q416.45,362.05 421.25,360.55 L421.25,363.40 Q416.45,364.30 411.65,363.40 Z" fill="#fff" fill-opacity="0.90" filter="url(#bl)"/>
<rect x="411.95" y="358.70" width="9.00" height="3.0" fill="#fff" fill-opacity="0.22" filter="url(#bl2)"/>
<path d="M411.85,377.85 Q416.45,378.55 421.05,377.85 L421.05,379.66 Q416.45,380.08 411.85,379.66 Z" fill="#fff" fill-opacity="0.12" filter="url(#bl)"/>
<path d="M425.42,329.75 Q430.22,331.25 435.02,329.75 L435.02,332.80 Q430.22,333.70 425.42,332.80 Z" fill="#fff" fill-opacity="0.90" filter="url(#bl)"/>
<rect x="425.72" y="327.90" width="9.00" height="3.0" fill="#fff" fill-opacity="0.22" filter="url(#bl2)"/>
<path d="M425.62,346.35 Q430.22,347.05 434.82,346.35 L434.82,348.36 Q430.22,348.78 425.62,348.36 Z" fill="#fff" fill-opacity="0.55" filter="url(#bl)"/>
<path d="M425.62,361.05 Q430.22,361.75 434.82,361.05 L434.82,362.86 Q430.22,363.28 425.62,362.86 Z" fill="#fff" fill-opacity="0.35" filter="url(#bl)"/>
<path d="M425.42,372.15 Q430.22,373.65 435.02,372.15 L435.02,375.60 Q430.22,376.50 425.42,375.60 Z" fill="#fff" fill-opacity="1.00" filter="url(#bl)"/>
<rect x="425.72" y="370.30" width="9.00" height="3.0" fill="#fff" fill-opacity="0.22" filter="url(#bl2)"/>
<path d="M425.62,338.90 Q430.22,339.60 434.82,338.90 L434.82,340.61 Q430.22,341.03 425.62,340.61 Z" fill="#fff" fill-opacity="0.15" filter="url(#bl)"/>
<path d="M439.19,328.85 Q443.99,330.35 448.79,328.85 L448.79,332.30 Q443.99,333.20 439.19,332.30 Z" fill="#fff" fill-opacity="1.00" filter="url(#bl)"/>
<rect x="439.49" y="327.00" width="9.00" height="3.0" fill="#fff" fill-opacity="0.22" filter="url(#bl2)"/>
<path d="M439.39,348.40 Q443.99,349.10 448.59,348.40 L448.59,350.11 Q443.99,350.53 439.39,350.11 Z" fill="#fff" fill-opacity="0.20" filter="url(#bl)"/>
<path d="M439.39,356.90 Q443.99,357.60 448.59,356.90 L448.59,358.61 Q443.99,359.03 439.39,358.61 Z" fill="#fff" fill-opacity="0.25" filter="url(#bl)"/>
<path d="M439.39,368.15 Q443.99,368.85 448.59,368.15 L448.59,370.36 Q443.99,370.78 439.39,370.36 Z" fill="#fff" fill-opacity="0.70" filter="url(#bl)"/>
<path d="M439.39,381.85 Q443.99,383.35 448.59,381.85 L448.59,384.50 Q443.99,385.40 439.39,384.50 Z" fill="#fff" fill-opacity="0.75" filter="url(#bl)"/>
<path d="M452.96,329.25 Q457.76,330.75 462.56,329.25 L462.56,332.70 Q457.76,333.60 452.96,332.70 Z" fill="#fff" fill-opacity="1.00" filter="url(#bl)"/>
<rect x="453.26" y="327.40" width="9.00" height="3.0" fill="#fff" fill-opacity="0.22" filter="url(#bl2)"/>
<path d="M453.16,345.90 Q457.76,346.60 462.36,345.90 L462.36,347.61 Q457.76,348.03 453.16,347.61 Z" fill="#fff" fill-opacity="0.20" filter="url(#bl)"/>
<path d="M453.16,360.75 Q457.76,361.45 462.36,360.75 L462.36,362.76 Q457.76,363.18 453.16,362.76 Z" fill="#fff" fill-opacity="0.40" filter="url(#bl)"/>
<path d="M452.96,380.35 Q457.76,381.85 462.56,380.35 L462.56,383.40 Q457.76,384.30 452.96,383.40 Z" fill="#fff" fill-opacity="0.95" filter="url(#bl)"/>
<rect x="453.26" y="378.50" width="9.00" height="3.0" fill="#fff" fill-opacity="0.22" filter="url(#bl2)"/>
<path d="M453.16,370.90 Q457.76,371.60 462.36,370.90 L462.36,372.61 Q457.76,373.03 453.16,372.61 Z" fill="#fff" fill-opacity="0.15" filter="url(#bl)"/>
<path d="M466.73,329.45 Q471.53,330.95 476.33,329.45 L476.33,333.10 Q471.53,334.00 466.73,333.10 Z" fill="#fff" fill-opacity="1.00" filter="url(#bl)"/>
<rect x="467.03" y="327.60" width="9.00" height="3.0" fill="#fff" fill-opacity="0.22" filter="url(#bl2)"/>
<path d="M466.93,347.95 Q471.53,348.65 476.13,347.95 L476.13,349.96 Q471.53,350.38 466.93,349.96 Z" fill="#fff" fill-opacity="0.50" filter="url(#bl)"/>
<path d="M466.93,352.40 Q471.53,353.10 476.13,352.40 L476.13,354.11 Q471.53,354.53 466.93,354.11 Z" fill="#fff" fill-opacity="0.25" filter="url(#bl)"/>
<path d="M466.93,356.90 Q471.53,357.60 476.13,356.90 L476.13,358.61 Q471.53,359.03 466.93,358.61 Z" fill="#fff" fill-opacity="0.20" filter="url(#bl)"/>
<path d="M466.43,376.75 Q471.53,378.25 476.63,376.75 L476.63,384.60 Q471.53,385.50 466.43,384.60 Z" fill="#fff" fill-opacity="1.00" filter="url(#bl2)"/>
<rect x="466.73" y="374.90" width="9.60" height="3.0" fill="#fff" fill-opacity="0.22" filter="url(#bl2)"/>
<path d="M466.43,377.75 Q471.53,379.25 476.63,377.75 L476.63,383.60 Q471.53,384.50 466.43,383.60 Z" fill="#fff" fill-opacity="1.00" filter="url(#bl)"/>
<rect x="466.73" y="375.90" width="9.60" height="3.0" fill="#fff" fill-opacity="0.22" filter="url(#bl2)"/>
<path d="M480.20,324.85 Q485.30,326.35 490.40,324.85 L490.40,332.70 Q485.30,333.60 480.20,332.70 Z" fill="#fff" fill-opacity="1.00" filter="url(#bl2)"/>
<rect x="480.50" y="323.00" width="9.60" height="3.0" fill="#fff" fill-opacity="0.22" filter="url(#bl2)"/>
<path d="M480.20,325.85 Q485.30,327.35 490.40,325.85 L490.40,331.70 Q485.30,332.60 480.20,331.70 Z" fill="#fff" fill-opacity="1.00" filter="url(#bl)"/>
<rect x="480.50" y="324.00" width="9.60" height="3.0" fill="#fff" fill-opacity="0.22" filter="url(#bl2)"/>
<path d="M480.70,345.90 Q485.30,346.60 489.90,345.90 L489.90,347.61 Q485.30,348.03 480.70,347.61 Z" fill="#fff" fill-opacity="0.20" filter="url(#bl)"/>
<path d="M480.70,353.40 Q485.30,354.10 489.90,353.40 L489.90,355.11 Q485.30,355.53 480.70,355.11 Z" fill="#fff" fill-opacity="0.20" filter="url(#bl)"/>
<path d="M480.70,363.65 Q485.30,364.35 489.90,363.65 L489.90,365.86 Q485.30,366.28 480.70,365.86 Z" fill="#fff" fill-opacity="0.65" filter="url(#bl)"/>
<path d="M480.50,395.55 Q485.30,397.05 490.10,395.55 L490.10,398.60 Q485.30,399.50 480.50,398.60 Z" fill="#fff" fill-opacity="0.80" filter="url(#bl)"/>
<path d="M494.47,330.85 Q499.07,331.55 503.67,330.85 L503.67,333.06 Q499.07,333.48 494.47,333.06 Z" fill="#fff" fill-opacity="0.30" filter="url(#bl)"/>
<path d="M493.97,345.65 Q499.07,347.15 504.17,345.65 L504.17,353.50 Q499.07,354.40 493.97,353.50 Z" fill="#fff" fill-opacity="1.00" filter="url(#bl2)"/>
<rect x="494.27" y="343.80" width="9.60" height="3.0" fill="#fff" fill-opacity="0.22" filter="url(#bl2)"/>
<path d="M493.97,346.65 Q499.07,348.15 504.17,346.65 L504.17,352.50 Q499.07,353.40 493.97,352.50 Z" fill="#fff" fill-opacity="1.00" filter="url(#bl)"/>
<rect x="494.27" y="344.80" width="9.60" height="3.0" fill="#fff" fill-opacity="0.22" filter="url(#bl2)"/>
<path d="M494.47,357.95 Q499.07,358.65 503.67,357.95 L503.67,359.96 Q499.07,360.38 494.47,359.96 Z" fill="#fff" fill-opacity="0.22" filter="url(#bl)"/>
<path d="M494.47,367.90 Q499.07,368.60 503.67,367.90 L503.67,369.61 Q499.07,370.03 494.47,369.61 Z" fill="#fff" fill-opacity="0.10" filter="url(#bl)"/>
<path d="M494.47,378.90 Q499.07,379.60 503.67,378.90 L503.67,380.61 Q499.07,381.03 494.47,380.61 Z" fill="#fff" fill-opacity="0.08" filter="url(#bl)"/>
<path d="M494.47,414.25 Q499.07,414.95 503.67,414.25 L503.67,416.46 Q499.07,416.88 494.47,416.46 Z" fill="#fff" fill-opacity="0.15" filter="url(#bl)"/>
<path d="M508.04,330.65 Q512.84,332.15 517.64,330.65 L517.64,334.30 Q512.84,335.20 508.04,334.30 Z" fill="#fff" fill-opacity="0.95" filter="url(#bl)"/>
<rect x="508.34" y="328.80" width="9.00" height="3.0" fill="#fff" fill-opacity="0.22" filter="url(#bl2)"/>
<path d="M508.24,343.50 Q512.84,344.20 517.44,343.50 L517.44,345.21 Q512.84,345.63 508.24,345.21 Z" fill="#fff" fill-opacity="0.15" filter="url(#bl)"/>
<path d="M507.74,371.45 Q512.84,372.95 517.94,371.45 L517.94,380.30 Q512.84,381.20 507.74,380.30 Z" fill="#fff" fill-opacity="1.00" filter="url(#bl2)"/>
<rect x="508.04" y="369.60" width="9.60" height="3.0" fill="#fff" fill-opacity="0.22" filter="url(#bl2)"/>
<path d="M507.74,372.45 Q512.84,373.95 517.94,372.45 L517.94,379.30 Q512.84,380.20 507.74,379.30 Z" fill="#fff" fill-opacity="1.00" filter="url(#bl)"/>
<rect x="508.04" y="370.60" width="9.60" height="3.0" fill="#fff" fill-opacity="0.22" filter="url(#bl2)"/>
<path d="M507.74,396.25 Q512.84,397.75 517.94,396.25 L517.94,403.10 Q512.84,404.00 507.74,403.10 Z" fill="#fff" fill-opacity="1.00" filter="url(#bl2)"/>
<rect x="508.04" y="394.40" width="9.60" height="3.0" fill="#fff" fill-opacity="0.22" filter="url(#bl2)"/>
<path d="M508.04,397.35 Q512.84,398.85 517.64,397.35 L517.64,402.00 Q512.84,402.90 508.04,402.00 Z" fill="#fff" fill-opacity="1.00" filter="url(#bl)"/>
<rect x="508.34" y="395.50" width="9.00" height="3.0" fill="#fff" fill-opacity="0.22" filter="url(#bl2)"/>
<path d="M521.81,328.15 Q526.61,329.65 531.41,328.15 L531.41,332.00 Q526.61,332.90 521.81,332.00 Z" fill="#fff" fill-opacity="1.00" filter="url(#bl)"/>
<rect x="522.11" y="326.30" width="9.00" height="3.0" fill="#fff" fill-opacity="0.22" filter="url(#bl2)"/>
<path d="M522.01,343.15 Q526.61,343.85 531.21,343.15 L531.21,345.16 Q526.61,345.58 522.01,345.16 Z" fill="#fff" fill-opacity="0.45" filter="url(#bl)"/>
<path d="M522.01,361.95 Q526.61,362.65 531.21,361.95 L531.21,363.96 Q526.61,364.38 522.01,363.96 Z" fill="#fff" fill-opacity="0.45" filter="url(#bl)"/>
<path d="M522.01,365.95 Q526.61,366.65 531.21,365.95 L531.21,367.56 Q526.61,367.98 522.01,367.56 Z" fill="#fff" fill-opacity="0.25" filter="url(#bl)"/>
<path d="M522.01,369.05 Q526.61,369.75 531.21,369.05 L531.21,370.86 Q526.61,371.28 522.01,370.86 Z" fill="#fff" fill-opacity="0.40" filter="url(#bl)"/>
<path d="M521.81,382.25 Q526.61,383.75 531.41,382.25 L531.41,385.30 Q526.61,386.20 521.81,385.30 Z" fill="#fff" fill-opacity="0.95" filter="url(#bl)"/>
<rect x="522.11" y="380.40" width="9.00" height="3.0" fill="#fff" fill-opacity="0.22" filter="url(#bl2)"/>
<path d="M521.81,394.65 Q526.61,396.15 531.41,394.65 L531.41,397.50 Q526.61,398.40 521.81,397.50 Z" fill="#fff" fill-opacity="0.90" filter="url(#bl)"/>
<rect x="522.11" y="392.80" width="9.00" height="3.0" fill="#fff" fill-opacity="0.22" filter="url(#bl2)"/>
<path d="M522.01,350.90 Q526.61,351.60 531.21,350.90 L531.21,352.61 Q526.61,353.03 522.01,352.61 Z" fill="#fff" fill-opacity="0.15" filter="url(#bl)"/>
<path d="M522.01,355.40 Q526.61,356.10 531.21,355.40 L531.21,357.11 Q526.61,357.53 522.01,357.11 Z" fill="#fff" fill-opacity="0.15" filter="url(#bl)"/>
<path d="M535.78,330.45 Q540.38,331.15 544.98,330.45 L544.98,332.66 Q540.38,333.08 535.78,332.66 Z" fill="#fff" fill-opacity="0.30" filter="url(#bl)"/>
<path d="M535.78,359.65 Q540.38,360.35 544.98,359.65 L544.98,361.86 Q540.38,362.28 535.78,361.86 Z" fill="#fff" fill-opacity="0.55" filter="url(#bl)"/>
<path d="M535.58,366.35 Q540.38,367.85 545.18,366.35 L545.18,369.60 Q540.38,370.50 535.58,369.60 Z" fill="#fff" fill-opacity="0.95" filter="url(#bl)"/>
<rect x="535.88" y="364.50" width="9.00" height="3.0" fill="#fff" fill-opacity="0.22" filter="url(#bl2)"/>
<path d="M535.78,372.45 Q540.38,373.15 544.98,372.45 L544.98,374.06 Q540.38,374.48 535.78,374.06 Z" fill="#fff" fill-opacity="0.20" filter="url(#bl)"/>
<path d="M535.78,376.45 Q540.38,377.15 544.98,376.45 L544.98,378.06 Q540.38,378.48 535.78,378.06 Z" fill="#fff" fill-opacity="0.20" filter="url(#bl)"/>
<path d="M535.78,380.45 Q540.38,381.15 544.98,380.45 L544.98,382.06 Q540.38,382.48 535.78,382.06 Z" fill="#fff" fill-opacity="0.20" filter="url(#bl)"/>
<path d="M535.78,384.95 Q540.38,385.65 544.98,384.95 L544.98,386.56 Q540.38,386.98 535.78,386.56 Z" fill="#fff" fill-opacity="0.24" filter="url(#bl)"/>
<path d="M535.78,388.45 Q540.38,389.15 544.98,388.45 L544.98,390.06 Q540.38,390.48 535.78,390.06 Z" fill="#fff" fill-opacity="0.24" filter="url(#bl)"/>
<path d="M535.78,392.45 Q540.38,393.15 544.98,392.45 L544.98,394.06 Q540.38,394.48 535.78,394.06 Z" fill="#fff" fill-opacity="0.20" filter="url(#bl)"/>
<path d="M535.78,396.45 Q540.38,397.15 544.98,396.45 L544.98,398.06 Q540.38,398.48 535.78,398.06 Z" fill="#fff" fill-opacity="0.17" filter="url(#bl)"/>
<path d="M535.78,399.95 Q540.38,400.65 544.98,399.95 L544.98,401.56 Q540.38,401.98 535.78,401.56 Z" fill="#fff" fill-opacity="0.12" filter="url(#bl)"/>
<path d="M535.78,341.90 Q540.38,342.60 544.98,341.90 L544.98,343.61 Q540.38,344.03 535.78,343.61 Z" fill="#fff" fill-opacity="0.12" filter="url(#bl)"/>
<ellipse cx="347.6" cy="321.8" rx="2.9" ry="2.3" fill="#3a3a3a" fill-opacity="0.85" filter="url(#bl)"/>
</g>
</g>
<g id="panel-d">
<text x="-0.60" y="488.80" font-size="13.5" font-weight="bold">d</text>
<rect x="84.80" y="493.20" width="353.20" height="151.00" fill="#ececec"/>
<g shape-rendering="crispEdges">
<rect x="112.90" y="493.20" width="2.15" height="10.12" fill="#c6dae9"/>
<rect x="115.00" y="493.20" width="38.35" height="10.12" fill="#a0c4df"/>
<rect x="153.30" y="493.20" width="4.25" height="10.12" fill="#d3e1ec"/>
<rect x="157.50" y="493.20" width="13.45" height="10.12" fill="#8db9da"/>
<rect x="170.90" y="493.20" width="11.75" height="10.12" fill="#ccddea"/>
<rect x="219.50" y="493.20" width="7.75" height="10.12" fill="#92bcdc"/>
<rect x="227.20" y="493.20" width="4.75" height="10.12" fill="#d3e1ec"/>
<rect x="251.40" y="493.20" width="6.45" height="10.12" fill="#2f7fbe"/>
<rect x="265.80" y="493.20" width="7.55" height="10.12" fill="#d3e1ec"/>
<rect x="273.30" y="493.20" width="22.35" height="10.12" fill="#92bcdc"/>
<rect x="295.60" y="493.20" width="15.35" height="10.12" fill="#2f7fbe"/>
<rect x="310.90" y="493.20" width="5.95" height="10.12" fill="#c6dae9"/>
<rect x="117.50" y="503.27" width="19.45" height="10.12" fill="#6ba4d0"/>
<rect x="136.90" y="503.27" width="20.65" height="10.12" fill="#8ab7d9"/>
<rect x="157.50" y="503.27" width="4.95" height="10.12" fill="#6ba4d0"/>
<rect x="217.00" y="503.27" width="3.25" height="10.12" fill="#85b4d8"/>
<rect x="220.20" y="503.27" width="5.35" height="10.12" fill="#6ba4d0"/>
<rect x="225.50" y="503.27" width="3.25" height="10.12" fill="#85b4d8"/>
<rect x="228.70" y="503.27" width="5.35" height="10.12" fill="#6ba4d0"/>
<rect x="234.00" y="503.27" width="4.25" height="10.12" fill="#85b4d8"/>
<rect x="238.20" y="503.27" width="20.25" height="10.12" fill="#6ba4d0"/>
<rect x="258.40" y="503.27" width="9.15" height="10.12" fill="#3e89c3"/>
<rect x="267.50" y="503.27" width="4.35" height="10.12" fill="#5c9ccc"/>
<rect x="271.80" y="503.27" width="12.15" height="10.12" fill="#3583c0"/>
<rect x="283.90" y="503.27" width="7.05" height="10.12" fill="#6ba4d0"/>
<rect x="290.90" y="503.27" width="14.95" height="10.12" fill="#a0c4df"/>
<rect x="111.90" y="513.33" width="3.15" height="10.12" fill="#a0c4df"/>
<rect x="115.00" y="513.33" width="2.25" height="10.12" fill="#6ba4d0"/>
<rect x="117.20" y="513.33" width="5.35" height="10.12" fill="#3885c1"/>
<rect x="122.50" y="513.33" width="4.25" height="10.12" fill="#7dafd6"/>
<rect x="126.70" y="513.33" width="12.85" height="10.12" fill="#b5d0e5"/>
<rect x="139.50" y="513.33" width="8.55" height="10.12" fill="#90badb"/>
<rect x="148.00" y="513.33" width="5.35" height="10.12" fill="#a5c7e0"/>
<rect x="153.30" y="513.33" width="7.45" height="10.12" fill="#9dc2de"/>
<rect x="160.70" y="513.33" width="12.85" height="10.12" fill="#a8c8e1"/>
<rect x="173.50" y="513.33" width="12.75" height="10.12" fill="#9dc2de"/>
<rect x="186.20" y="513.33" width="13.85" height="10.12" fill="#a0c4df"/>
<rect x="200.00" y="513.33" width="4.25" height="10.12" fill="#85b4d8"/>
<rect x="204.20" y="513.33" width="14.55" height="10.12" fill="#95bedc"/>
<rect x="218.70" y="513.33" width="6.85" height="10.12" fill="#6ba4d0"/>
<rect x="225.50" y="513.33" width="3.25" height="10.12" fill="#4c93c8"/>
<rect x="228.70" y="513.33" width="3.25" height="10.12" fill="#2f7fbe"/>
<rect x="231.90" y="513.33" width="2.55" height="10.12" fill="#6ba4d0"/>
<rect x="234.40" y="513.33" width="23.45" height="10.12" fill="#2f7fbe"/>
<rect x="257.80" y="513.33" width="9.75" height="10.12" fill="#6ba4d0"/>
<rect x="267.50" y="513.33" width="5.85" height="10.12" fill="#bad3e6"/>
<rect x="273.30" y="513.33" width="6.45" height="10.12" fill="#c6dae9"/>
<rect x="279.70" y="513.33" width="3.15" height="10.12" fill="#a0c4df"/>
<rect x="282.80" y="513.33" width="6.45" height="10.12" fill="#aacae2"/>
<rect x="289.20" y="513.33" width="11.15" height="10.12" fill="#bad3e6"/>
<rect x="111.40" y="523.40" width="4.35" height="10.12" fill="#85b4d8"/>
<rect x="115.70" y="523.40" width="11.55" height="10.12" fill="#2f7fbe"/>
<rect x="127.20" y="523.40" width="4.85" height="10.12" fill="#bad3e6"/>
<rect x="132.00" y="523.40" width="7.55" height="10.12" fill="#c9dbea"/>
<rect x="139.50" y="523.40" width="4.25" height="10.12" fill="#adcce2"/>
<rect x="143.70" y="523.40" width="9.65" height="10.12" fill="#c2d7e8"/>
<rect x="153.30" y="523.40" width="15.95" height="10.12" fill="#bad3e6"/>
<rect x="169.20" y="523.40" width="4.35" height="10.12" fill="#d3e1ec"/>
<rect x="173.50" y="523.40" width="10.55" height="10.12" fill="#bad3e6"/>
<rect x="184.00" y="523.40" width="6.55" height="10.12" fill="#e7eaec"/>
<rect x="190.50" y="523.40" width="9.55" height="10.12" fill="#d3e1ec"/>
<rect x="200.00" y="523.40" width="18.75" height="10.12" fill="#bad3e6"/>
<rect x="218.70" y="523.40" width="6.85" height="10.12" fill="#a0c4df"/>
<rect x="225.50" y="523.40" width="8.55" height="10.12" fill="#bad3e6"/>
<rect x="234.00" y="523.40" width="15.35" height="10.12" fill="#a0c4df"/>
<rect x="249.30" y="523.40" width="8.55" height="10.12" fill="#6ba4d0"/>
<rect x="257.80" y="523.40" width="13.45" height="10.12" fill="#a0c4df"/>
<rect x="271.20" y="523.40" width="5.35" height="10.12" fill="#bad3e6"/>
<rect x="276.50" y="523.40" width="14.85" height="10.12" fill="#a0c4df"/>
<rect x="291.30" y="523.40" width="3.25" height="10.12" fill="#bad3e6"/>
<rect x="294.50" y="523.40" width="14.95" height="10.12" fill="#dae4ec"/>
<rect x="110.80" y="533.47" width="4.25" height="10.12" fill="#adcce2"/>
<rect x="115.00" y="533.47" width="12.25" height="10.12" fill="#2f7fbe"/>
<rect x="127.20" y="533.47" width="12.35" height="10.12" fill="#c2d7e8"/>
<rect x="139.50" y="533.47" width="12.75" height="10.12" fill="#2f7fbe"/>
<rect x="152.20" y="533.47" width="9.65" height="10.12" fill="#6ba4d0"/>
<rect x="161.80" y="533.47" width="9.55" height="10.12" fill="#7dafd6"/>
<rect x="171.30" y="533.47" width="8.55" height="10.12" fill="#a0c4df"/>
<rect x="179.80" y="533.47" width="20.25" height="10.12" fill="#c6dae9"/>
<rect x="200.00" y="533.47" width="4.25" height="10.12" fill="#d3e1ec"/>
<rect x="204.20" y="533.47" width="7.55" height="10.12" fill="#adcce2"/>
<rect x="211.70" y="533.47" width="5.35" height="10.12" fill="#92bcdc"/>
<rect x="217.00" y="533.47" width="7.45" height="10.12" fill="#bad3e6"/>
<rect x="224.40" y="533.47" width="5.35" height="10.12" fill="#a0c4df"/>
<rect x="229.70" y="533.47" width="2.25" height="10.12" fill="#bad3e6"/>
<rect x="231.90" y="533.47" width="2.15" height="10.12" fill="#f2f2f2"/>
<rect x="234.00" y="533.47" width="7.45" height="10.12" fill="#bad3e6"/>
<rect x="241.40" y="533.47" width="4.35" height="10.12" fill="#a0c4df"/>
<rect x="245.70" y="533.47" width="5.35" height="10.12" fill="#bad3e6"/>
<rect x="251.00" y="533.47" width="6.35" height="10.12" fill="#2f7fbe"/>
<rect x="257.30" y="533.47" width="12.85" height="10.12" fill="#bad3e6"/>
<rect x="270.10" y="533.47" width="6.45" height="10.12" fill="#d3e1ec"/>
<rect x="276.50" y="533.47" width="33.95" height="10.12" fill="#c9dbea"/>
<rect x="310.40" y="533.47" width="14.35" height="10.12" fill="#bad3e6"/>
<rect x="324.70" y="533.47" width="3.85" height="10.12" fill="#d3e1ec"/>
<rect x="112.30" y="543.53" width="4.95" height="10.12" fill="#8ab7d9"/>
<rect x="117.20" y="543.53" width="17.05" height="10.12" fill="#2f7fbe"/>
<rect x="134.20" y="543.53" width="3.15" height="10.12" fill="#6ba4d0"/>
<rect x="137.30" y="543.53" width="5.45" height="10.12" fill="#2f7fbe"/>
<rect x="142.70" y="543.53" width="7.45" height="10.12" fill="#8ab7d9"/>
<rect x="150.10" y="543.53" width="10.65" height="10.12" fill="#d3e1ec"/>
<rect x="160.70" y="543.53" width="12.85" height="10.12" fill="#d8e3ec"/>
<rect x="173.50" y="543.53" width="17.05" height="10.12" fill="#e0e6ec"/>
<rect x="190.50" y="543.53" width="5.35" height="10.12" fill="#c6dae9"/>
<rect x="195.80" y="543.53" width="4.25" height="10.12" fill="#d3e1ec"/>
<rect x="200.00" y="543.53" width="7.45" height="10.12" fill="#c9dbea"/>
<rect x="207.40" y="543.53" width="5.35" height="10.12" fill="#d3e1ec"/>
<rect x="212.70" y="543.53" width="6.45" height="10.12" fill="#e2e8ec"/>
<rect x="219.10" y="543.53" width="5.35" height="10.12" fill="#d3e1ec"/>
<rect x="224.40" y="543.53" width="7.05" height="10.12" fill="#a5c7e0"/>
<rect x="231.40" y="543.53" width="3.65" height="10.12" fill="#f4f4f4"/>
<rect x="235.00" y="543.53" width="10.75" height="10.12" fill="#e0e6ec"/>
<rect x="245.70" y="543.53" width="7.05" height="10.12" fill="#bad3e6"/>
<rect x="252.70" y="543.53" width="10.05" height="10.12" fill="#6ba4d0"/>
<rect x="262.70" y="543.53" width="4.25" height="10.12" fill="#d3e1ec"/>
<rect x="266.90" y="543.53" width="7.45" height="10.12" fill="#efefef"/>
<rect x="274.30" y="543.53" width="7.55" height="10.12" fill="#dae4ec"/>
<rect x="281.80" y="543.53" width="4.25" height="10.12" fill="#d3e1ec"/>
<rect x="289.20" y="543.53" width="7.45" height="10.12" fill="#dae4ec"/>
<rect x="112.30" y="553.60" width="4.25" height="10.12" fill="#95bedc"/>
<rect x="116.50" y="553.60" width="12.45" height="10.12" fill="#2f7fbe"/>
<rect x="128.90" y="553.60" width="10.65" height="10.12" fill="#6ba4d0"/>
<rect x="139.50" y="553.60" width="3.25" height="10.12" fill="#3e89c3"/>
<rect x="142.70" y="553.60" width="8.55" height="10.12" fill="#6ba4d0"/>
<rect x="151.20" y="553.60" width="12.75" height="10.12" fill="#7baed5"/>
<rect x="163.90" y="553.60" width="6.45" height="10.12" fill="#6ba4d0"/>
<rect x="170.30" y="553.60" width="4.25" height="10.12" fill="#2f7fbe"/>
<rect x="174.50" y="553.60" width="3.25" height="10.12" fill="#85b4d8"/>
<rect x="177.70" y="553.60" width="22.35" height="10.12" fill="#a0c4df"/>
<rect x="200.00" y="553.60" width="25.15" height="10.12" fill="#92bcdc"/>
<rect x="225.10" y="553.60" width="6.35" height="10.12" fill="#6ba4d0"/>
<rect x="231.40" y="553.60" width="3.05" height="10.12" fill="#f4f4f4"/>
<rect x="234.40" y="553.60" width="8.15" height="10.12" fill="#85b4d8"/>
<rect x="242.50" y="553.60" width="6.85" height="10.12" fill="#a0c4df"/>
<rect x="249.30" y="553.60" width="2.75" height="10.12" fill="#85b4d8"/>
<rect x="252.00" y="553.60" width="5.85" height="10.12" fill="#6ba4d0"/>
<rect x="257.80" y="553.60" width="4.95" height="10.12" fill="#d3e1ec"/>
<rect x="262.70" y="553.60" width="12.75" height="10.12" fill="#bad3e6"/>
<rect x="275.40" y="553.60" width="6.45" height="10.12" fill="#eeeeee"/>
<rect x="110.80" y="563.67" width="5.35" height="10.12" fill="#d3e1ec"/>
<rect x="116.10" y="563.67" width="11.75" height="10.12" fill="#2f7fbe"/>
<rect x="127.80" y="563.67" width="11.75" height="10.12" fill="#85b4d8"/>
<rect x="139.50" y="563.67" width="3.85" height="10.12" fill="#2f7fbe"/>
<rect x="143.30" y="563.67" width="8.95" height="10.12" fill="#6ba4d0"/>
<rect x="152.20" y="563.67" width="6.05" height="10.12" fill="#f4f4f4"/>
<rect x="158.20" y="563.67" width="12.15" height="10.12" fill="#6ba4d0"/>
<rect x="170.30" y="563.67" width="20.25" height="10.12" fill="#2f7fbe"/>
<rect x="190.50" y="563.67" width="18.05" height="10.12" fill="#65a1ce"/>
<rect x="208.50" y="563.67" width="19.15" height="10.12" fill="#75aad3"/>
<rect x="227.60" y="563.67" width="3.85" height="10.12" fill="#92bcdc"/>
<rect x="231.40" y="563.67" width="3.05" height="10.12" fill="#f0f0f0"/>
<rect x="234.40" y="563.67" width="11.95" height="10.12" fill="#85b4d8"/>
<rect x="246.30" y="563.67" width="5.75" height="10.12" fill="#92bcdc"/>
<rect x="252.00" y="563.67" width="16.05" height="10.12" fill="#6ba4d0"/>
<rect x="268.00" y="563.67" width="5.35" height="10.12" fill="#adcce2"/>
<rect x="273.30" y="563.67" width="8.55" height="10.12" fill="#a0c4df"/>
<rect x="281.80" y="563.67" width="13.85" height="10.12" fill="#85b4d8"/>
<rect x="295.60" y="563.67" width="12.75" height="10.12" fill="#bad3e6"/>
<rect x="308.30" y="563.67" width="7.55" height="10.12" fill="#d3e1ec"/>
<rect x="108.70" y="573.73" width="8.55" height="10.12" fill="#7baed5"/>
<rect x="117.20" y="573.73" width="30.85" height="10.12" fill="#2f7fbe"/>
<rect x="148.00" y="573.73" width="12.75" height="10.12" fill="#6ba4d0"/>
<rect x="160.70" y="573.73" width="69.05" height="10.12" fill="#2f7fbe"/>
<rect x="229.70" y="573.73" width="2.25" height="10.12" fill="#85b4d8"/>
<rect x="231.90" y="573.73" width="4.25" height="10.12" fill="#f4f4f4"/>
<rect x="236.10" y="573.73" width="19.55" height="10.12" fill="#6ba4d0"/>
<rect x="255.60" y="573.73" width="11.95" height="10.12" fill="#a0c4df"/>
<rect x="267.50" y="573.73" width="19.65" height="10.12" fill="#bad3e6"/>
<rect x="287.10" y="573.73" width="8.55" height="10.12" fill="#e2e8ec"/>
<rect x="108.70" y="583.80" width="3.25" height="10.12" fill="#c6dae9"/>
<rect x="111.90" y="583.80" width="5.35" height="10.12" fill="#95bedc"/>
<rect x="117.20" y="583.80" width="19.75" height="10.12" fill="#2f7fbe"/>
<rect x="136.90" y="583.80" width="7.95" height="10.12" fill="#6ba4d0"/>
<rect x="144.80" y="583.80" width="9.55" height="10.12" fill="#85b4d8"/>
<rect x="154.30" y="583.80" width="16.05" height="10.12" fill="#6ba4d0"/>
<rect x="170.30" y="583.80" width="8.55" height="10.12" fill="#2f7fbe"/>
<rect x="178.80" y="583.80" width="17.05" height="10.12" fill="#6ba4d0"/>
<rect x="195.80" y="583.80" width="29.75" height="10.12" fill="#85b4d8"/>
<rect x="225.50" y="583.80" width="4.25" height="10.12" fill="#6ba4d0"/>
<rect x="229.70" y="583.80" width="5.35" height="10.12" fill="#f4f4f4"/>
<rect x="235.00" y="583.80" width="6.45" height="10.12" fill="#e0e6ec"/>
<rect x="241.40" y="583.80" width="9.65" height="10.12" fill="#eeeeee"/>
<rect x="251.00" y="583.80" width="6.85" height="10.12" fill="#6ba4d0"/>
<rect x="257.80" y="583.80" width="10.25" height="10.12" fill="#85b4d8"/>
<rect x="268.00" y="583.80" width="8.55" height="10.12" fill="#a0c4df"/>
<rect x="276.50" y="583.80" width="22.35" height="10.12" fill="#85b4d8"/>
<rect x="298.80" y="583.80" width="3.25" height="10.12" fill="#d3e1ec"/>
<rect x="109.70" y="593.87" width="5.35" height="10.12" fill="#d3e1ec"/>
<rect x="115.00" y="593.87" width="11.35" height="10.12" fill="#2f7fbe"/>
<rect x="197.90" y="593.87" width="10.65" height="10.12" fill="#c9dbea"/>
<rect x="208.50" y="593.87" width="10.65" height="10.12" fill="#d3e1ec"/>
<rect x="219.10" y="593.87" width="6.05" height="10.12" fill="#bad3e6"/>
<rect x="225.10" y="593.87" width="5.15" height="10.12" fill="#2f7fbe"/>
<rect x="230.20" y="593.87" width="2.15" height="10.12" fill="#d3e1ec"/>
<rect x="232.30" y="593.87" width="2.15" height="10.12" fill="#f4f4f4"/>
<rect x="234.40" y="593.87" width="16.65" height="10.12" fill="#92bcdc"/>
<rect x="251.00" y="593.87" width="24.45" height="10.12" fill="#6ba4d0"/>
<rect x="275.40" y="593.87" width="8.55" height="10.12" fill="#bad3e6"/>
<rect x="283.90" y="593.87" width="22.35" height="10.12" fill="#d3e1ec"/>
<rect x="110.80" y="603.93" width="4.95" height="10.12" fill="#bad3e6"/>
<rect x="115.70" y="603.93" width="10.65" height="10.12" fill="#2f7fbe"/>
<rect x="139.50" y="603.93" width="2.55" height="10.12" fill="#4c93c8"/>
<rect x="142.00" y="603.93" width="28.35" height="10.12" fill="#6ba4d0"/>
<rect x="170.30" y="603.93" width="10.05" height="10.12" fill="#2f7fbe"/>
<rect x="180.30" y="603.93" width="28.25" height="10.12" fill="#6ba4d0"/>
<rect x="208.50" y="603.93" width="23.45" height="10.12" fill="#2f7fbe"/>
<rect x="231.90" y="603.93" width="2.15" height="10.12" fill="#85b4d8"/>
<rect x="234.00" y="603.93" width="72.25" height="10.12" fill="#2f7fbe"/>
<rect x="306.20" y="603.93" width="11.75" height="10.12" fill="#6ba4d0"/>
<rect x="317.90" y="603.93" width="4.65" height="10.12" fill="#bad3e6"/>
<rect x="116.50" y="614.00" width="11.35" height="10.12" fill="#65a1ce"/>
<rect x="140.50" y="614.00" width="7.55" height="10.12" fill="#85b4d8"/>
<rect x="148.00" y="614.00" width="5.35" height="10.12" fill="#adcce2"/>
<rect x="153.30" y="614.00" width="15.95" height="10.12" fill="#b2cee4"/>
<rect x="169.20" y="614.00" width="7.45" height="10.12" fill="#a0c4df"/>
<rect x="176.60" y="614.00" width="3.25" height="10.12" fill="#d3e1ec"/>
<rect x="179.80" y="614.00" width="10.75" height="10.12" fill="#6ba4d0"/>
<rect x="190.50" y="614.00" width="8.05" height="10.12" fill="#2f7fbe"/>
<rect x="198.50" y="614.00" width="11.15" height="10.12" fill="#6ba4d0"/>
<rect x="209.60" y="614.00" width="4.25" height="10.12" fill="#85b4d8"/>
<rect x="213.80" y="614.00" width="5.35" height="10.12" fill="#78acd4"/>
<rect x="219.10" y="614.00" width="12.35" height="10.12" fill="#2f7fbe"/>
<rect x="231.40" y="614.00" width="2.65" height="10.12" fill="#f4f4f4"/>
<rect x="234.00" y="614.00" width="4.25" height="10.12" fill="#a0c4df"/>
<rect x="238.20" y="614.00" width="6.45" height="10.12" fill="#bad3e6"/>
<rect x="244.60" y="614.00" width="6.45" height="10.12" fill="#a0c4df"/>
<rect x="251.00" y="614.00" width="6.35" height="10.12" fill="#92bcdc"/>
<rect x="257.30" y="614.00" width="12.85" height="10.12" fill="#aacae2"/>
<rect x="270.10" y="614.00" width="3.25" height="10.12" fill="#d3e1ec"/>
<rect x="273.30" y="614.00" width="15.95" height="10.12" fill="#adcce2"/>
<rect x="289.20" y="614.00" width="17.05" height="10.12" fill="#b5d0e5"/>
<rect x="306.20" y="614.00" width="5.35" height="10.12" fill="#a0c4df"/>
<rect x="311.50" y="614.00" width="3.25" height="10.12" fill="#f4f4f4"/>
<rect x="314.70" y="614.00" width="5.35" height="10.12" fill="#92bcdc"/>
<rect x="320.00" y="614.00" width="3.25" height="10.12" fill="#bad3e6"/>
<rect x="323.20" y="614.00" width="6.45" height="10.12" fill="#dae4ec"/>
<rect x="117.80" y="624.07" width="15.35" height="10.12" fill="#3885c1"/>
<rect x="133.10" y="624.07" width="3.85" height="10.12" fill="#6ba4d0"/>
<rect x="136.90" y="624.07" width="42.55" height="10.12" fill="#2f7fbe"/>
<rect x="179.40" y="624.07" width="5.75" height="10.12" fill="#ccddea"/>
<rect x="185.10" y="624.07" width="16.95" height="10.12" fill="#80b1d6"/>
<rect x="202.00" y="624.07" width="6.55" height="10.12" fill="#85b4d8"/>
<rect x="208.50" y="624.07" width="22.95" height="10.12" fill="#65a1ce"/>
<rect x="231.40" y="624.07" width="3.05" height="10.12" fill="#f4f4f4"/>
<rect x="234.40" y="624.07" width="10.65" height="10.12" fill="#6ba4d0"/>
<rect x="245.00" y="624.07" width="12.85" height="10.12" fill="#2f7fbe"/>
<rect x="257.80" y="624.07" width="33.55" height="10.12" fill="#6ba4d0"/>
<rect x="291.30" y="624.07" width="40.45" height="10.12" fill="#2f7fbe"/>
<rect x="331.70" y="624.07" width="4.25" height="10.12" fill="#6ba4d0"/>
<rect x="335.90" y="624.07" width="5.35" height="10.12" fill="#92bcdc"/>
<rect x="341.20" y="624.07" width="18.15" height="10.12" fill="#a0c4df"/>
<rect x="110.80" y="634.13" width="7.05" height="10.12" fill="#7baed5"/>
<rect x="117.80" y="634.13" width="17.05" height="10.12" fill="#85b4d8"/>
<rect x="134.80" y="634.13" width="4.75" height="10.12" fill="#adcce2"/>
<rect x="139.50" y="634.13" width="2.55" height="10.12" fill="#85b4d8"/>
<rect x="142.00" y="634.13" width="17.75" height="10.12" fill="#a5c7e0"/>
<rect x="159.70" y="634.13" width="11.65" height="10.12" fill="#85b4d8"/>
<rect x="171.30" y="634.13" width="5.35" height="10.12" fill="#a0c4df"/>
<rect x="251.00" y="634.13" width="6.85" height="10.12" fill="#2f7fbe"/>
</g>
<text x="442.30" y="500.70" font-size="9.5">scramble</text>
<text x="442.30" y="510.77" font-size="9.5">XIST409</text>
<text x="442.30" y="520.84" font-size="9.5">XIST383</text>
<text x="442.30" y="530.91" font-size="9.5">XIST62</text>
<text x="442.30" y="540.98" font-size="9.5">XIST21</text>
<text x="442.30" y="551.05" font-size="9.5">XIST73</text>
<text x="442.30" y="561.12" font-size="9.5">XIST214</text>
<text x="442.30" y="571.19" font-size="9.5">XIST79</text>
<text x="442.30" y="581.26" font-size="9.5">XIST244</text>
<text x="442.30" y="591.33" font-size="9.5">XIST271</text>
<text x="442.30" y="601.40" font-size="9.5">XIST325</text>
<text x="442.30" y="611.47" font-size="9.5">XIST61</text>
<text x="442.30" y="621.54" font-size="9.5">XIST48</text>
<text x="442.30" y="631.61" font-size="9.5">XIST359</text>
<text x="442.30" y="641.68" font-size="9.5">XIST354</text>
<g stroke-linecap="square">
<line x1="68.50" y1="516.68" x2="68.50" y2="526.82" stroke="#1a1a1a" stroke-width="0.8"/>
<line x1="68.50" y1="516.68" x2="82.80" y2="516.68" stroke="#1a1a1a" stroke-width="0.8"/>
<line x1="68.50" y1="526.82" x2="82.80" y2="526.82" stroke="#1a1a1a" stroke-width="0.8"/>
<line x1="62.90" y1="506.54" x2="62.90" y2="521.75" stroke="#1a1a1a" stroke-width="0.8"/>
<line x1="62.90" y1="506.54" x2="82.80" y2="506.54" stroke="#1a1a1a" stroke-width="0.8"/>
<line x1="62.90" y1="521.75" x2="68.50" y2="521.75" stroke="#1a1a1a" stroke-width="0.8"/>
<line x1="62.50" y1="496.40" x2="62.50" y2="514.14" stroke="#1a1a1a" stroke-width="0.8"/>
<line x1="62.50" y1="496.40" x2="82.80" y2="496.40" stroke="#1a1a1a" stroke-width="0.8"/>
<line x1="62.50" y1="514.14" x2="62.90" y2="514.14" stroke="#1a1a1a" stroke-width="0.8"/>
<line x1="59.70" y1="505.27" x2="59.70" y2="536.96" stroke="#1a1a1a" stroke-width="0.8"/>
<line x1="59.70" y1="505.27" x2="62.50" y2="505.27" stroke="#1a1a1a" stroke-width="0.8"/>
<line x1="59.70" y1="536.96" x2="82.80" y2="536.96" stroke="#1a1a1a" stroke-width="0.8"/>
<line x1="65.60" y1="547.10" x2="65.60" y2="557.24" stroke="#1a1a1a" stroke-width="0.8"/>
<line x1="65.60" y1="547.10" x2="82.80" y2="547.10" stroke="#1a1a1a" stroke-width="0.8"/>
<line x1="65.60" y1="557.24" x2="82.80" y2="557.24" stroke="#1a1a1a" stroke-width="0.8"/>
<line x1="68.50" y1="567.38" x2="68.50" y2="577.52" stroke="#1a1a1a" stroke-width="0.8"/>
<line x1="68.50" y1="567.38" x2="82.80" y2="567.38" stroke="#1a1a1a" stroke-width="0.8"/>
<line x1="68.50" y1="577.52" x2="82.80" y2="577.52" stroke="#1a1a1a" stroke-width="0.8"/>
<line x1="63.50" y1="552.17" x2="63.50" y2="572.45" stroke="#1a1a1a" stroke-width="0.8"/>
<line x1="63.50" y1="552.17" x2="65.60" y2="552.17" stroke="#1a1a1a" stroke-width="0.8"/>
<line x1="63.50" y1="572.45" x2="68.50" y2="572.45" stroke="#1a1a1a" stroke-width="0.8"/>
<line x1="59.90" y1="521.12" x2="59.90" y2="562.31" stroke="#1a1a1a" stroke-width="0.8"/>
<line x1="59.90" y1="521.12" x2="59.70" y2="521.12" stroke="#1a1a1a" stroke-width="0.8"/>
<line x1="59.90" y1="562.31" x2="63.50" y2="562.31" stroke="#1a1a1a" stroke-width="0.8"/>
<line x1="57.00" y1="541.71" x2="57.00" y2="587.66" stroke="#1a1a1a" stroke-width="0.8"/>
<line x1="57.00" y1="541.71" x2="59.90" y2="541.71" stroke="#1a1a1a" stroke-width="0.8"/>
<line x1="57.00" y1="587.66" x2="82.80" y2="587.66" stroke="#1a1a1a" stroke-width="0.8"/>
<line x1="53.80" y1="564.69" x2="53.80" y2="597.80" stroke="#1a1a1a" stroke-width="0.8"/>
<line x1="53.80" y1="564.69" x2="57.00" y2="564.69" stroke="#1a1a1a" stroke-width="0.8"/>
<line x1="53.80" y1="597.80" x2="82.80" y2="597.80" stroke="#1a1a1a" stroke-width="0.8"/>
<line x1="59.40" y1="607.94" x2="59.40" y2="618.08" stroke="#1a1a1a" stroke-width="0.8"/>
<line x1="59.40" y1="607.94" x2="82.80" y2="607.94" stroke="#1a1a1a" stroke-width="0.8"/>
<line x1="59.40" y1="618.08" x2="82.80" y2="618.08" stroke="#1a1a1a" stroke-width="0.8"/>
<line x1="50.50" y1="581.24" x2="50.50" y2="613.01" stroke="#1a1a1a" stroke-width="0.8"/>
<line x1="50.50" y1="581.24" x2="53.80" y2="581.24" stroke="#1a1a1a" stroke-width="0.8"/>
<line x1="50.50" y1="613.01" x2="59.40" y2="613.01" stroke="#1a1a1a" stroke-width="0.8"/>
<line x1="48.00" y1="597.13" x2="48.00" y2="628.22" stroke="#1a1a1a" stroke-width="0.8"/>
<line x1="48.00" y1="597.13" x2="50.50" y2="597.13" stroke="#1a1a1a" stroke-width="0.8"/>
<line x1="48.00" y1="628.22" x2="82.80" y2="628.22" stroke="#1a1a1a" stroke-width="0.8"/>
<line x1="38.40" y1="612.67" x2="38.40" y2="638.36" stroke="#1a1a1a" stroke-width="0.8"/>
<line x1="38.40" y1="612.67" x2="48.00" y2="612.67" stroke="#1a1a1a" stroke-width="0.8"/>
<line x1="38.40" y1="638.36" x2="82.80" y2="638.36" stroke="#1a1a1a" stroke-width="0.8"/>
</g>
<rect x="26.30" y="513.40" width="9.30" height="7.01" fill="#ececec"/>
<rect x="26.30" y="520.41" width="9.30" height="7.01" fill="#d3e1ec"/>
<line x1="26.30" y1="520.41" x2="35.60" y2="520.41" stroke="#f4f6f8" stroke-width="0.35"/>
<rect x="26.30" y="527.42" width="9.30" height="7.01" fill="#bad3e6"/>
<line x1="26.30" y1="527.42" x2="35.60" y2="527.42" stroke="#f4f6f8" stroke-width="0.35"/>
<rect x="26.30" y="534.43" width="9.30" height="7.01" fill="#a0c4df"/>
<line x1="26.30" y1="534.43" x2="35.60" y2="534.43" stroke="#f4f6f8" stroke-width="0.35"/>
<rect x="26.30" y="541.44" width="9.30" height="7.01" fill="#85b4d8"/>
<line x1="26.30" y1="541.44" x2="35.60" y2="541.44" stroke="#f4f6f8" stroke-width="0.35"/>
<rect x="26.30" y="548.45" width="9.30" height="7.01" fill="#6ba4d0"/>
<line x1="26.30" y1="548.45" x2="35.60" y2="548.45" stroke="#f4f6f8" stroke-width="0.35"/>
<rect x="26.30" y="555.46" width="9.30" height="7.01" fill="#4c93c8"/>
<line x1="26.30" y1="555.46" x2="35.60" y2="555.46" stroke="#f4f6f8" stroke-width="0.35"/>
<rect x="26.30" y="562.47" width="9.30" height="7.01" fill="#2f7fbe"/>
<line x1="26.30" y1="562.47" x2="35.60" y2="562.47" stroke="#f4f6f8" stroke-width="0.35"/>
<text x="38.30" y="520.60" font-size="7" fill="#222">3</text>
<text x="38.30" y="536.90" font-size="7" fill="#222">2</text>
<text x="38.30" y="552.70" font-size="7" fill="#222">1</text>
<text x="38.30" y="568.80" font-size="7" fill="#222">0</text>
<text x="21.4" y="540.5" font-size="7.6" text-anchor="middle" fill="#111" transform="rotate(-90 21.4 540.5)">log<tspan font-size="4.8" dy="1.6">2</tspan><tspan dy="-1.6">(DP+1)</tspan></text>
<text x="19.30" y="651.90" font-size="9.6">Presence of</text>
<text x="19.30" y="660.30" font-size="9.6">a deletion</text>
<text x="19.30" y="676.70" font-size="9.6">GC Content</text>
<polygon points="109.7,657.9 111.9,656.9 115.0,655.8 117.2,649.4 117.8,648.4 127.2,648.4 127.8,652.6 131.0,653.7 135.2,654.3 139.5,653.0 141.6,652.2 143.7,653.7 148.0,654.7 152.2,656.4 154.3,656.9 157.5,655.2 160.7,654.1 165.0,653.7 171.3,653.3 177.7,653.7 179.8,654.3 182.0,655.2 190.5,655.8 200.0,656.4 208.5,655.8 209.6,654.7 214.9,654.1 221.2,653.0 225.5,651.6 229.7,652.2 231.9,653.7 233.6,656.9 235.0,655.2 242.5,655.2 249.9,654.7 251.4,653.7 252.0,657.9 257.8,657.9 257.8,654.1 263.7,654.3 268.0,655.2 274.3,655.8 285.0,656.4 293.5,656.9 295.6,657.9 310.4,657.9 310.4,657.2 320.0,656.9 334.9,657.1 334.9,657.9" fill="#2f7fbe"/>
<line x1="85.30" y1="647.30" x2="85.30" y2="659.60" stroke="#333" stroke-width="0.7"/>
<line x1="85.30" y1="657.90" x2="438.20" y2="657.90" stroke="#333" stroke-width="0.7"/>
<line x1="83.00" y1="650.10" x2="85.30" y2="650.10" stroke="#333" stroke-width="0.7"/>
<line x1="83.00" y1="657.90" x2="85.30" y2="657.90" stroke="#333" stroke-width="0.7"/>
<text x="82.40" y="652.30" font-size="6.4" text-anchor="end" fill="#222">10</text>
<text x="82.40" y="660.50" font-size="6.4" text-anchor="end" fill="#222">0</text>
<line x1="144.07" y1="657.90" x2="144.07" y2="660.90" stroke="#333" stroke-width="0.7"/>
<line x1="202.83" y1="657.90" x2="202.83" y2="660.90" stroke="#333" stroke-width="0.7"/>
<line x1="261.60" y1="657.90" x2="261.60" y2="660.90" stroke="#333" stroke-width="0.7"/>
<line x1="320.37" y1="657.90" x2="320.37" y2="660.90" stroke="#333" stroke-width="0.7"/>
<line x1="379.13" y1="657.90" x2="379.13" y2="660.90" stroke="#333" stroke-width="0.7"/>
<line x1="437.90" y1="657.90" x2="437.90" y2="660.90" stroke="#333" stroke-width="0.7"/>
<g shape-rendering="crispEdges">
<rect x="86.00" y="664.70" width="2.55" height="7.30" fill="#e2ece6"/>
<rect x="88.50" y="664.70" width="3.25" height="7.30" fill="#fee6ae"/>
<rect x="91.70" y="664.70" width="4.25" height="7.30" fill="#fa9656"/>
<rect x="95.90" y="664.70" width="3.25" height="7.30" fill="#f46d43"/>
<rect x="99.10" y="664.70" width="3.25" height="7.30" fill="#fa9656"/>
<rect x="102.30" y="664.70" width="4.25" height="7.30" fill="#fdc678"/>
<rect x="106.50" y="664.70" width="3.25" height="7.30" fill="#fee6ae"/>
<rect x="109.70" y="664.70" width="3.25" height="7.30" fill="#fa9656"/>
<rect x="112.90" y="664.70" width="10.65" height="7.30" fill="#fdc678"/>
<rect x="123.50" y="664.70" width="6.45" height="7.30" fill="#fedb93"/>
<rect x="129.90" y="664.70" width="7.45" height="7.30" fill="#fee6ae"/>
<rect x="137.30" y="664.70" width="6.45" height="7.30" fill="#fdeec6"/>
<rect x="143.70" y="664.70" width="4.35" height="7.30" fill="#f4f0d2"/>
<rect x="148.00" y="664.70" width="4.25" height="7.30" fill="#fee6ae"/>
<rect x="152.20" y="664.70" width="3.25" height="7.30" fill="#bdd7ea"/>
<rect x="155.40" y="664.70" width="3.65" height="7.30" fill="#f4f0d2"/>
<rect x="159.00" y="664.70" width="3.85" height="7.30" fill="#bdd7ea"/>
<rect x="162.80" y="664.70" width="6.45" height="7.30" fill="#fee6ae"/>
<rect x="169.20" y="664.70" width="4.35" height="7.30" fill="#fedb93"/>
<rect x="173.50" y="664.70" width="10.55" height="7.30" fill="#fee6ae"/>
<rect x="184.00" y="664.70" width="4.35" height="7.30" fill="#fdc678"/>
<rect x="188.30" y="664.70" width="5.35" height="7.30" fill="#fedb93"/>
<rect x="193.60" y="664.70" width="6.45" height="7.30" fill="#fee6ae"/>
<rect x="200.00" y="664.70" width="3.25" height="7.30" fill="#fedb93"/>
<rect x="203.20" y="664.70" width="6.45" height="7.30" fill="#fee6ae"/>
<rect x="209.60" y="664.70" width="9.55" height="7.30" fill="#fdeec6"/>
<rect x="219.10" y="664.70" width="3.25" height="7.30" fill="#fdc678"/>
<rect x="222.30" y="664.70" width="4.35" height="7.30" fill="#fa9656"/>
<rect x="226.60" y="664.70" width="3.15" height="7.30" fill="#f46d43"/>
<rect x="229.70" y="664.70" width="4.35" height="7.30" fill="#fa9656"/>
<rect x="234.00" y="664.70" width="5.35" height="7.30" fill="#fdb066"/>
<rect x="239.30" y="664.70" width="4.25" height="7.30" fill="#fa9656"/>
<rect x="243.50" y="664.70" width="4.35" height="7.30" fill="#fdb066"/>
<rect x="247.80" y="664.70" width="3.25" height="7.30" fill="#fedb93"/>
<rect x="251.00" y="664.70" width="3.25" height="7.30" fill="#8fb4d9"/>
<rect x="254.20" y="664.70" width="3.65" height="7.30" fill="#6b9bd0"/>
<rect x="257.80" y="664.70" width="3.85" height="7.30" fill="#bdd7ea"/>
<rect x="261.60" y="664.70" width="3.25" height="7.30" fill="#e2ece6"/>
<rect x="264.80" y="664.70" width="4.25" height="7.30" fill="#fdb066"/>
<rect x="269.00" y="664.70" width="3.25" height="7.30" fill="#fee6ae"/>
<rect x="272.20" y="664.70" width="4.35" height="7.30" fill="#fdc678"/>
<rect x="276.50" y="664.70" width="5.35" height="7.30" fill="#fedb93"/>
<rect x="281.80" y="664.70" width="4.25" height="7.30" fill="#fdc678"/>
<rect x="286.00" y="664.70" width="3.65" height="7.30" fill="#fa9656"/>
<rect x="289.60" y="664.70" width="14.55" height="7.30" fill="#fedb93"/>
<rect x="304.10" y="664.70" width="15.95" height="7.30" fill="#fee6ae"/>
<rect x="320.00" y="664.70" width="5.35" height="7.30" fill="#fee6ae"/>
<rect x="325.30" y="664.70" width="3.25" height="7.30" fill="#fdc678"/>
<rect x="328.50" y="664.70" width="3.25" height="7.30" fill="#fee6ae"/>
<rect x="331.70" y="664.70" width="4.25" height="7.30" fill="#fa9656"/>
<rect x="335.90" y="664.70" width="3.25" height="7.30" fill="#fee6ae"/>
<rect x="339.10" y="664.70" width="3.25" height="7.30" fill="#fdc678"/>
<rect x="342.30" y="664.70" width="3.65" height="7.30" fill="#fee6ae"/>
<rect x="345.90" y="664.70" width="3.85" height="7.30" fill="#fa9656"/>
<rect x="349.70" y="664.70" width="3.25" height="7.30" fill="#fee6ae"/>
<rect x="352.90" y="664.70" width="3.65" height="7.30" fill="#fdc678"/>
<rect x="356.50" y="664.70" width="3.45" height="7.30" fill="#fee6ae"/>
<rect x="359.90" y="664.70" width="3.65" height="7.30" fill="#fdb066"/>
<rect x="363.50" y="664.70" width="3.75" height="7.30" fill="#fa9656"/>
<rect x="367.20" y="664.70" width="7.05" height="7.30" fill="#fdc678"/>
<rect x="374.20" y="664.70" width="3.65" height="7.30" fill="#fa9656"/>
<rect x="377.80" y="664.70" width="3.85" height="7.30" fill="#fdeec6"/>
<rect x="381.60" y="664.70" width="3.25" height="7.30" fill="#fee6ae"/>
<rect x="384.80" y="664.70" width="3.65" height="7.30" fill="#f4f0d2"/>
<rect x="388.40" y="664.70" width="3.85" height="7.30" fill="#fa9656"/>
<rect x="392.20" y="664.70" width="3.25" height="7.30" fill="#fdb066"/>
<rect x="395.40" y="664.70" width="7.45" height="7.30" fill="#fdc678"/>
<rect x="402.80" y="664.70" width="7.55" height="7.30" fill="#fdeec6"/>
<rect x="410.30" y="664.70" width="6.35" height="7.30" fill="#f4f0d2"/>
<rect x="416.60" y="664.70" width="3.25" height="7.30" fill="#fee6ae"/>
<rect x="419.80" y="664.70" width="3.95" height="7.30" fill="#fdc678"/>
<rect x="423.70" y="664.70" width="6.85" height="7.30" fill="#fdeec6"/>
<rect x="430.50" y="664.70" width="3.15" height="7.30" fill="#fdc678"/>
<rect x="433.60" y="664.70" width="4.35" height="7.30" fill="#fa9656"/>
</g>
<line x1="85.30" y1="664.00" x2="85.30" y2="677.60" stroke="#333" stroke-width="0.7"/>
<line x1="85.30" y1="675.20" x2="438.20" y2="675.20" stroke="#333" stroke-width="0.7"/>
<text x="85.30" y="684.90" font-size="6.3" text-anchor="middle" fill="#222">0</text>
<line x1="144.07" y1="675.20" x2="144.07" y2="677.80" stroke="#333" stroke-width="0.7"/>
<text x="144.07" y="684.90" font-size="6.3" text-anchor="middle" fill="#222">1000</text>
<line x1="202.83" y1="675.20" x2="202.83" y2="677.80" stroke="#333" stroke-width="0.7"/>
<text x="202.83" y="684.90" font-size="6.3" text-anchor="middle" fill="#222">2000</text>
<line x1="261.60" y1="675.20" x2="261.60" y2="677.80" stroke="#333" stroke-width="0.7"/>
<text x="261.60" y="684.90" font-size="6.3" text-anchor="middle" fill="#222">3000</text>
<line x1="320.37" y1="675.20" x2="320.37" y2="677.80" stroke="#333" stroke-width="0.7"/>
<text x="320.37" y="684.90" font-size="6.3" text-anchor="middle" fill="#222">4000</text>
<line x1="379.13" y1="675.20" x2="379.13" y2="677.80" stroke="#333" stroke-width="0.7"/>
<text x="379.13" y="684.90" font-size="6.3" text-anchor="middle" fill="#222">5000</text>
<line x1="437.90" y1="675.20" x2="437.90" y2="677.80" stroke="#333" stroke-width="0.7"/>
<text x="437.90" y="684.90" font-size="6.3" text-anchor="middle" fill="#222">6000</text>
<defs><linearGradient id="gcg" x1="0" y1="0" x2="0" y2="1">
<stop offset="0" stop-color="#4575b4"/><stop offset="0.18" stop-color="#74add1"/><stop offset="0.32" stop-color="#abd9e9"/>
<stop offset="0.44" stop-color="#e0f3f8"/><stop offset="0.52" stop-color="#fdf6c8"/><stop offset="0.62" stop-color="#fee090"/>
<stop offset="0.76" stop-color="#fdae61"/><stop offset="0.9" stop-color="#f46d43"/><stop offset="1" stop-color="#d73027"/>
</linearGradient></defs>
<rect x="452.30" y="658.00" width="13.60" height="21.90" fill="url(#gcg)"/>
<text x="468.70" y="660.70" font-size="6.6" fill="#222">0.9</text>
<text x="468.70" y="671.90" font-size="6.6" fill="#222">0.5</text>
<text x="468.70" y="682.70" font-size="6.6" fill="#222">0.1</text>
</g>
</svg>
</body>
</html>
